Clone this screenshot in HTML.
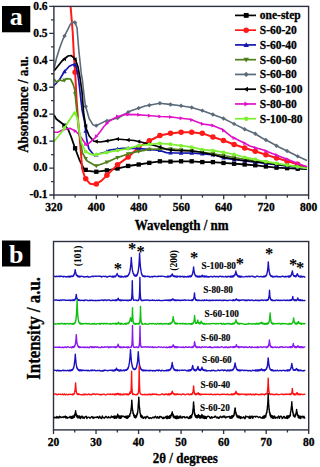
<!DOCTYPE html><html><head><meta charset="utf-8"><style>html,body{margin:0;padding:0;background:#fff;overflow:hidden}svg{display:block}</style></head><body>
<svg width="319" height="467" viewBox="0 0 319 467">
<defs><clipPath id="ca"><rect x="53.9" y="6.4" width="254.70000000000002" height="188.6"/></clipPath></defs>
<g clip-path="url(#ca)">
<path d="M54.00,115.00 L56.30,119.00 L62.50,123.70 L68.00,129.20 L71.20,137.00 L74.70,147.20 L79.40,159.80 L84.10,169.20 L88.00,170.80 L95.90,171.80 L106.80,170.40 L117.00,168.60 L127.80,166.00 L138.80,164.50 L149.00,162.90 L160.00,161.30 L170.50,161.60 L180.70,161.30 L191.60,161.30 L202.60,162.10 L212.80,162.10 L223.00,162.90 L233.90,163.70 L244.90,164.50 L255.90,165.30 L275.70,167.60 L307.00,169.20" fill="none" stroke="#000000" stroke-width="1.8" stroke-linejoin="round"/>
<rect x="62.34" y="123.54" width="4.32" height="4.32" fill="#000000"/>
<rect x="72.94" y="146.11" width="4.32" height="4.32" fill="#000000"/>
<rect x="83.54" y="167.70" width="4.32" height="4.32" fill="#000000"/>
<rect x="94.14" y="169.59" width="4.32" height="4.32" fill="#000000"/>
<rect x="104.74" y="168.22" width="4.32" height="4.32" fill="#000000"/>
<rect x="115.34" y="166.32" width="4.32" height="4.32" fill="#000000"/>
<rect x="125.94" y="163.80" width="4.32" height="4.32" fill="#000000"/>
<rect x="136.54" y="162.35" width="4.32" height="4.32" fill="#000000"/>
<rect x="147.14" y="160.70" width="4.32" height="4.32" fill="#000000"/>
<rect x="157.74" y="159.15" width="4.32" height="4.32" fill="#000000"/>
<rect x="168.34" y="159.44" width="4.32" height="4.32" fill="#000000"/>
<rect x="178.94" y="159.14" width="4.32" height="4.32" fill="#000000"/>
<rect x="189.54" y="159.15" width="4.32" height="4.32" fill="#000000"/>
<rect x="200.14" y="159.92" width="4.32" height="4.32" fill="#000000"/>
<rect x="210.74" y="159.95" width="4.32" height="4.32" fill="#000000"/>
<rect x="221.34" y="160.78" width="4.32" height="4.32" fill="#000000"/>
<rect x="231.94" y="161.55" width="4.32" height="4.32" fill="#000000"/>
<rect x="242.54" y="162.33" width="4.32" height="4.32" fill="#000000"/>
<rect x="253.14" y="163.10" width="4.32" height="4.32" fill="#000000"/>
<rect x="263.74" y="164.30" width="4.32" height="4.32" fill="#000000"/>
<rect x="274.34" y="165.48" width="4.32" height="4.32" fill="#000000"/>
<rect x="284.94" y="166.02" width="4.32" height="4.32" fill="#000000"/>
<rect x="295.54" y="166.56" width="4.32" height="4.32" fill="#000000"/>
<path d="M70.40,0.00 L70.60,6.40 L72.70,32.00 L73.80,53.50 L75.30,75.00 L76.60,100.00 L78.20,121.30 L81.00,153.50 L82.10,168.80 L85.20,178.20 L89.90,183.70 L95.40,184.50 L101.60,180.60 L107.10,175.10 L117.30,164.90 L127.80,157.40 L138.80,147.20 L149.00,141.00 L160.00,135.50 L169.70,133.40 L181.50,132.30 L191.60,132.30 L202.60,133.40 L212.80,137.00 L223.00,140.30 L234.30,144.50 L244.90,148.00 L255.90,151.50 L270.00,156.00 L290.00,162.00 L307.00,167.00" fill="none" stroke="#ff1a1a" stroke-width="2.0" stroke-linejoin="round"/>
<circle cx="75.10" cy="72.13" r="2.75" fill="#ff1a1a"/>
<circle cx="85.70" cy="178.79" r="2.75" fill="#ff1a1a"/>
<circle cx="96.30" cy="183.93" r="2.75" fill="#ff1a1a"/>
<circle cx="106.90" cy="175.30" r="2.75" fill="#ff1a1a"/>
<circle cx="117.50" cy="164.76" r="2.75" fill="#ff1a1a"/>
<circle cx="128.10" cy="157.12" r="2.75" fill="#ff1a1a"/>
<circle cx="138.70" cy="147.29" r="2.75" fill="#ff1a1a"/>
<circle cx="149.30" cy="140.85" r="2.75" fill="#ff1a1a"/>
<circle cx="159.90" cy="135.55" r="2.75" fill="#ff1a1a"/>
<circle cx="170.50" cy="133.33" r="2.75" fill="#ff1a1a"/>
<circle cx="181.10" cy="132.34" r="2.75" fill="#ff1a1a"/>
<circle cx="191.70" cy="132.31" r="2.75" fill="#ff1a1a"/>
<circle cx="202.30" cy="133.37" r="2.75" fill="#ff1a1a"/>
<circle cx="212.90" cy="137.03" r="2.75" fill="#ff1a1a"/>
<circle cx="223.50" cy="140.49" r="2.75" fill="#ff1a1a"/>
<circle cx="234.10" cy="144.43" r="2.75" fill="#ff1a1a"/>
<circle cx="244.70" cy="147.93" r="2.75" fill="#ff1a1a"/>
<circle cx="255.30" cy="151.31" r="2.75" fill="#ff1a1a"/>
<circle cx="265.90" cy="154.69" r="2.75" fill="#ff1a1a"/>
<circle cx="276.50" cy="157.95" r="2.75" fill="#ff1a1a"/>
<circle cx="287.10" cy="161.13" r="2.75" fill="#ff1a1a"/>
<circle cx="297.70" cy="164.26" r="2.75" fill="#ff1a1a"/>
<path d="M54.00,85.50 L56.00,83.50 L59.60,79.50 L64.10,72.00 L69.30,66.30 L72.00,65.00 L74.60,64.00 L76.00,66.50 L77.60,73.00 L79.00,83.00 L80.00,92.00 L82.10,110.00 L84.50,121.30 L86.80,140.00 L88.80,148.80 L94.30,155.50 L100.00,153.50 L106.00,152.00 L109.40,150.00 L122.60,148.40 L137.60,148.40 L160.00,150.50 L166.30,152.60 L175.00,153.00 L193.20,153.20 L215.00,155.00 L224.50,158.20 L245.00,161.00 L270.00,164.00 L307.00,168.50" fill="none" stroke="#1515b0" stroke-width="1.7" stroke-linejoin="round"/>
<path d="M64.50,69.28 L66.78,73.18 L62.22,73.18Z" fill="#1515b0"/>
<path d="M75.10,62.61 L77.38,66.51 L72.82,66.51Z" fill="#1515b0"/>
<path d="M85.70,128.78 L87.98,132.67 L83.42,132.67Z" fill="#1515b0"/>
<path d="M96.30,152.52 L98.58,156.41 L94.02,156.41Z" fill="#1515b0"/>
<path d="M106.90,149.19 L109.18,153.09 L104.62,153.09Z" fill="#1515b0"/>
<path d="M117.50,146.74 L119.78,150.63 L115.22,150.63Z" fill="#1515b0"/>
<path d="M128.10,146.12 L130.38,150.02 L125.82,150.02Z" fill="#1515b0"/>
<path d="M138.70,146.22 L140.98,150.12 L136.42,150.12Z" fill="#1515b0"/>
<path d="M149.30,147.22 L151.58,151.11 L147.02,151.11Z" fill="#1515b0"/>
<path d="M159.90,148.21 L162.18,152.11 L157.62,152.11Z" fill="#1515b0"/>
<path d="M170.50,150.51 L172.78,154.41 L168.22,154.41Z" fill="#1515b0"/>
<path d="M181.10,150.79 L183.38,154.68 L178.82,154.68Z" fill="#1515b0"/>
<path d="M191.70,150.90 L193.98,154.80 L189.42,154.80Z" fill="#1515b0"/>
<path d="M202.30,151.67 L204.58,155.57 L200.02,155.57Z" fill="#1515b0"/>
<path d="M212.90,152.55 L215.18,156.44 L210.62,156.44Z" fill="#1515b0"/>
<path d="M223.50,155.58 L225.78,159.48 L221.22,159.48Z" fill="#1515b0"/>
<path d="M234.10,157.23 L236.38,161.13 L231.82,161.13Z" fill="#1515b0"/>
<path d="M244.70,158.68 L246.98,162.57 L242.42,162.57Z" fill="#1515b0"/>
<path d="M255.30,159.96 L257.58,163.85 L253.02,163.85Z" fill="#1515b0"/>
<path d="M265.90,161.23 L268.18,165.12 L263.62,165.12Z" fill="#1515b0"/>
<path d="M276.50,162.51 L278.78,166.41 L274.22,166.41Z" fill="#1515b0"/>
<path d="M287.10,163.80 L289.38,167.69 L284.82,167.69Z" fill="#1515b0"/>
<path d="M297.70,165.09 L299.98,168.98 L295.42,168.98Z" fill="#1515b0"/>
<path d="M54.00,79.00 L56.50,82.00 L60.00,80.00 L63.00,81.00 L67.00,78.60 L70.50,79.00 L73.00,84.00 L74.70,89.60 L75.60,99.00 L78.50,128.00 L82.40,153.00 L87.20,161.00 L95.90,166.00 L107.60,162.00 L115.00,158.50 L130.00,153.20 L148.90,149.30 L160.00,149.00 L170.00,148.80 L190.00,150.50 L215.00,154.00 L240.00,158.50 L270.00,163.00 L307.00,168.00" fill="none" stroke="#4f7f1c" stroke-width="1.7" stroke-linejoin="round"/>
<path d="M64.50,82.38 L66.78,78.49 L62.22,78.49Z" fill="#4f7f1c"/>
<path d="M75.10,96.06 L77.38,92.16 L72.82,92.16Z" fill="#4f7f1c"/>
<path d="M85.70,160.78 L87.98,156.88 L83.42,156.88Z" fill="#4f7f1c"/>
<path d="M96.30,168.14 L98.58,164.25 L94.02,164.25Z" fill="#4f7f1c"/>
<path d="M106.90,164.52 L109.18,160.62 L104.62,160.62Z" fill="#4f7f1c"/>
<path d="M117.50,159.90 L119.78,156.00 L115.22,156.00Z" fill="#4f7f1c"/>
<path d="M128.10,156.15 L130.38,152.26 L125.82,152.26Z" fill="#4f7f1c"/>
<path d="M138.70,153.68 L140.98,149.79 L136.42,149.79Z" fill="#4f7f1c"/>
<path d="M149.30,151.57 L151.58,147.67 L147.02,147.67Z" fill="#4f7f1c"/>
<path d="M159.90,151.28 L162.18,147.39 L157.62,147.39Z" fill="#4f7f1c"/>
<path d="M170.50,151.12 L172.78,147.23 L168.22,147.23Z" fill="#4f7f1c"/>
<path d="M181.10,152.02 L183.38,148.13 L178.82,148.13Z" fill="#4f7f1c"/>
<path d="M191.70,153.02 L193.98,149.12 L189.42,149.12Z" fill="#4f7f1c"/>
<path d="M202.30,154.50 L204.58,150.61 L200.02,150.61Z" fill="#4f7f1c"/>
<path d="M212.90,155.99 L215.18,152.09 L210.62,152.09Z" fill="#4f7f1c"/>
<path d="M223.50,157.81 L225.78,153.91 L221.22,153.91Z" fill="#4f7f1c"/>
<path d="M234.10,159.72 L236.38,155.82 L231.82,155.82Z" fill="#4f7f1c"/>
<path d="M244.70,161.48 L246.98,157.59 L242.42,157.59Z" fill="#4f7f1c"/>
<path d="M255.30,163.07 L257.58,159.18 L253.02,159.18Z" fill="#4f7f1c"/>
<path d="M265.90,164.66 L268.18,160.77 L263.62,160.77Z" fill="#4f7f1c"/>
<path d="M276.50,166.16 L278.78,162.26 L274.22,162.26Z" fill="#4f7f1c"/>
<path d="M287.10,167.59 L289.38,163.70 L284.82,163.70Z" fill="#4f7f1c"/>
<path d="M297.70,169.02 L299.98,165.13 L295.42,165.13Z" fill="#4f7f1c"/>
<path d="M54.00,69.00 L56.40,58.60 L59.60,48.30 L62.90,39.30 L66.70,31.60 L70.60,23.90 L74.60,21.40 L77.00,27.80 L78.80,50.00 L81.30,74.00 L82.40,80.00 L84.00,95.00 L85.30,105.00 L89.10,118.50 L93.00,124.80 L96.00,125.80 L104.40,121.60 L118.50,117.70 L131.00,110.70 L145.00,106.00 L159.80,103.30 L169.70,104.40 L180.70,105.70 L191.60,107.50 L202.60,110.70 L212.80,114.50 L223.00,118.30 L235.50,124.60 L244.90,129.30 L254.30,133.20 L262.00,138.00 L269.40,141.80 L278.80,147.00 L288.20,151.50 L297.60,156.30 L307.00,160.60" fill="none" stroke="#5c6b7a" stroke-width="1.6" stroke-linejoin="round"/>
<path d="M64.50,33.85 L66.71,36.06 L64.50,38.27 L62.29,36.06Z" fill="#5c6b7a"/>
<path d="M75.10,20.52 L77.31,22.73 L75.10,24.94 L72.89,22.73Z" fill="#5c6b7a"/>
<path d="M85.70,104.21 L87.91,106.42 L85.70,108.63 L83.49,106.42Z" fill="#5c6b7a"/>
<path d="M96.30,123.44 L98.51,125.65 L96.30,127.86 L94.09,125.65Z" fill="#5c6b7a"/>
<path d="M106.90,118.70 L109.11,120.91 L106.90,123.12 L104.69,120.91Z" fill="#5c6b7a"/>
<path d="M117.50,115.77 L119.71,117.98 L117.50,120.19 L115.29,117.98Z" fill="#5c6b7a"/>
<path d="M128.10,110.11 L130.31,112.32 L128.10,114.53 L125.89,112.32Z" fill="#5c6b7a"/>
<path d="M138.70,105.91 L140.91,108.12 L138.70,110.33 L136.49,108.12Z" fill="#5c6b7a"/>
<path d="M149.30,103.01 L151.51,105.22 L149.30,107.43 L147.09,105.22Z" fill="#5c6b7a"/>
<path d="M159.90,101.10 L162.11,103.31 L159.90,105.52 L157.69,103.31Z" fill="#5c6b7a"/>
<path d="M170.50,102.28 L172.71,104.49 L170.50,106.70 L168.29,104.49Z" fill="#5c6b7a"/>
<path d="M181.10,103.56 L183.31,105.77 L181.10,107.98 L178.89,105.77Z" fill="#5c6b7a"/>
<path d="M191.70,105.32 L193.91,107.53 L191.70,109.74 L189.49,107.53Z" fill="#5c6b7a"/>
<path d="M202.30,108.40 L204.51,110.61 L202.30,112.82 L200.09,110.61Z" fill="#5c6b7a"/>
<path d="M212.90,112.33 L215.11,114.54 L212.90,116.75 L210.69,114.54Z" fill="#5c6b7a"/>
<path d="M223.50,116.34 L225.71,118.55 L223.50,120.76 L221.29,118.55Z" fill="#5c6b7a"/>
<path d="M234.10,121.68 L236.31,123.89 L234.10,126.10 L231.89,123.89Z" fill="#5c6b7a"/>
<path d="M244.70,126.99 L246.91,129.20 L244.70,131.41 L242.49,129.20Z" fill="#5c6b7a"/>
<path d="M255.30,131.61 L257.51,133.82 L255.30,136.03 L253.09,133.82Z" fill="#5c6b7a"/>
<path d="M265.90,137.79 L268.11,140.00 L265.90,142.21 L263.69,140.00Z" fill="#5c6b7a"/>
<path d="M276.50,143.52 L278.71,145.73 L276.50,147.94 L274.29,145.73Z" fill="#5c6b7a"/>
<path d="M287.10,148.76 L289.31,150.97 L287.10,153.18 L284.89,150.97Z" fill="#5c6b7a"/>
<path d="M297.70,154.14 L299.91,156.35 L297.70,158.56 L295.49,156.35Z" fill="#5c6b7a"/>
<path d="M54.00,71.00 L58.00,66.00 L62.00,61.00 L68.00,56.00 L71.00,55.50 L73.60,57.50 L75.60,60.00 L78.00,67.00 L80.00,78.00 L82.00,92.00 L83.70,113.50 L86.00,128.00 L89.20,136.00 L93.90,141.20 L100.00,142.00 L107.60,140.80 L117.00,139.00 L134.20,140.50 L145.00,143.00 L160.00,147.00 L166.30,149.30 L175.00,150.50 L191.30,151.00 L200.00,152.00 L212.00,154.50 L224.50,157.50 L240.00,160.00 L262.00,162.50 L285.00,165.50 L307.00,168.00" fill="none" stroke="#000000" stroke-width="1.7" stroke-linejoin="round"/>
<path d="M62.34,58.92 L66.03,56.76 L66.03,61.08Z" fill="#000000"/>
<path d="M72.94,59.37 L76.63,57.21 L76.63,61.53Z" fill="#000000"/>
<path d="M83.54,126.11 L87.23,123.95 L87.23,128.27Z" fill="#000000"/>
<path d="M94.14,141.51 L97.83,139.35 L97.83,143.67Z" fill="#000000"/>
<path d="M104.74,140.91 L108.43,138.75 L108.43,143.07Z" fill="#000000"/>
<path d="M115.34,139.04 L119.03,136.88 L119.03,141.20Z" fill="#000000"/>
<path d="M125.94,139.97 L129.63,137.81 L129.63,142.13Z" fill="#000000"/>
<path d="M136.54,141.54 L140.23,139.38 L140.23,143.70Z" fill="#000000"/>
<path d="M147.14,144.15 L150.83,141.99 L150.83,146.31Z" fill="#000000"/>
<path d="M157.74,146.97 L161.43,144.81 L161.43,149.13Z" fill="#000000"/>
<path d="M168.34,149.88 L172.03,147.72 L172.03,152.04Z" fill="#000000"/>
<path d="M178.94,150.69 L182.63,148.53 L182.63,152.85Z" fill="#000000"/>
<path d="M189.54,151.05 L193.23,148.89 L193.23,153.21Z" fill="#000000"/>
<path d="M200.14,152.48 L203.83,150.32 L203.83,154.64Z" fill="#000000"/>
<path d="M210.74,154.72 L214.43,152.56 L214.43,156.88Z" fill="#000000"/>
<path d="M221.34,157.26 L225.03,155.10 L225.03,159.42Z" fill="#000000"/>
<path d="M231.94,159.05 L235.63,156.89 L235.63,161.21Z" fill="#000000"/>
<path d="M242.54,160.53 L246.23,158.37 L246.23,162.69Z" fill="#000000"/>
<path d="M253.14,161.74 L256.83,159.58 L256.83,163.90Z" fill="#000000"/>
<path d="M263.74,163.01 L267.43,160.85 L267.43,165.17Z" fill="#000000"/>
<path d="M274.34,164.39 L278.03,162.23 L278.03,166.55Z" fill="#000000"/>
<path d="M284.94,165.74 L288.63,163.58 L288.63,167.90Z" fill="#000000"/>
<path d="M295.54,166.94 L299.23,164.78 L299.23,169.10Z" fill="#000000"/>
<path d="M54.00,132.30 L57.80,132.30 L64.10,129.20 L70.40,128.40 L75.90,131.50 L79.80,135.50 L82.90,140.00 L86.50,145.30 L95.30,137.60 L100.00,132.00 L104.10,126.30 L109.10,121.30 L116.60,116.90 L124.00,114.40 L135.80,114.60 L145.00,115.30 L160.00,116.50 L171.30,117.00 L180.70,118.20 L190.00,119.30 L202.60,124.00 L212.60,125.40 L222.00,129.20 L231.40,136.70 L242.70,142.30 L250.00,146.00 L254.30,147.50 L262.00,149.50 L280.00,156.50 L307.00,167.00" fill="none" stroke="#e010c8" stroke-width="1.6" stroke-linejoin="round"/>
<path d="M66.54,129.15 L63.05,127.11 L63.05,131.19Z" fill="#e010c8"/>
<path d="M77.14,131.05 L73.66,129.01 L73.66,133.09Z" fill="#e010c8"/>
<path d="M87.74,144.12 L84.25,142.08 L84.25,146.16Z" fill="#e010c8"/>
<path d="M98.34,136.41 L94.85,134.37 L94.85,138.45Z" fill="#e010c8"/>
<path d="M108.94,123.50 L105.45,121.46 L105.45,125.54Z" fill="#e010c8"/>
<path d="M119.54,116.60 L116.05,114.56 L116.05,118.64Z" fill="#e010c8"/>
<path d="M130.14,114.47 L126.65,112.43 L126.65,116.51Z" fill="#e010c8"/>
<path d="M140.74,114.82 L137.25,112.78 L137.25,116.86Z" fill="#e010c8"/>
<path d="M151.34,115.64 L147.85,113.60 L147.85,117.68Z" fill="#e010c8"/>
<path d="M161.94,116.49 L158.45,114.45 L158.45,118.53Z" fill="#e010c8"/>
<path d="M172.54,116.96 L169.05,114.92 L169.05,119.00Z" fill="#e010c8"/>
<path d="M183.14,118.25 L179.65,116.21 L179.65,120.29Z" fill="#e010c8"/>
<path d="M193.74,119.93 L190.25,117.89 L190.25,121.97Z" fill="#e010c8"/>
<path d="M204.34,123.89 L200.85,121.85 L200.85,125.93Z" fill="#e010c8"/>
<path d="M214.94,125.52 L211.45,123.48 L211.45,127.56Z" fill="#e010c8"/>
<path d="M225.54,130.40 L222.05,128.36 L222.05,132.44Z" fill="#e010c8"/>
<path d="M236.14,138.04 L232.65,136.00 L232.65,140.08Z" fill="#e010c8"/>
<path d="M246.74,143.31 L243.25,141.27 L243.25,145.35Z" fill="#e010c8"/>
<path d="M257.34,147.76 L253.85,145.72 L253.85,149.80Z" fill="#e010c8"/>
<path d="M267.94,151.02 L264.45,148.98 L264.45,153.06Z" fill="#e010c8"/>
<path d="M278.54,155.14 L275.05,153.10 L275.05,157.18Z" fill="#e010c8"/>
<path d="M289.14,159.26 L285.65,157.22 L285.65,161.30Z" fill="#e010c8"/>
<path d="M299.74,163.38 L296.25,161.34 L296.25,165.42Z" fill="#e010c8"/>
<path d="M54.00,141.50 L62.50,131.00 L74.50,112.20 L77.60,118.50 L79.20,131.00 L81.60,143.00 L85.30,151.30 L90.00,154.00 L94.30,155.00 L106.00,152.70 L117.00,150.40 L127.00,148.80 L138.80,145.70 L159.20,143.30 L169.70,144.10 L180.70,145.70 L191.60,147.20 L202.60,149.60 L212.00,150.50 L223.00,152.20 L234.70,154.60 L244.90,157.50 L255.90,159.50 L262.00,161.00 L307.00,168.30" fill="none" stroke="#7ef032" stroke-width="1.8" stroke-linejoin="round"/>
<circle cx="64.50" cy="127.87" r="1.90" fill="#7ef032"/>
<circle cx="75.10" cy="113.42" r="1.90" fill="#7ef032"/>
<circle cx="85.70" cy="151.53" r="1.90" fill="#7ef032"/>
<circle cx="96.30" cy="154.61" r="1.90" fill="#7ef032"/>
<circle cx="106.90" cy="152.51" r="1.90" fill="#7ef032"/>
<circle cx="117.50" cy="150.32" r="1.90" fill="#7ef032"/>
<circle cx="128.10" cy="148.51" r="1.90" fill="#7ef032"/>
<circle cx="138.70" cy="145.73" r="1.90" fill="#7ef032"/>
<circle cx="149.30" cy="144.46" r="1.90" fill="#7ef032"/>
<circle cx="159.90" cy="143.35" r="1.90" fill="#7ef032"/>
<circle cx="170.50" cy="144.22" r="1.90" fill="#7ef032"/>
<circle cx="181.10" cy="145.76" r="1.90" fill="#7ef032"/>
<circle cx="191.70" cy="147.22" r="1.90" fill="#7ef032"/>
<circle cx="202.30" cy="149.53" r="1.90" fill="#7ef032"/>
<circle cx="212.90" cy="150.64" r="1.90" fill="#7ef032"/>
<circle cx="223.50" cy="152.30" r="1.90" fill="#7ef032"/>
<circle cx="234.10" cy="154.48" r="1.90" fill="#7ef032"/>
<circle cx="244.70" cy="157.44" r="1.90" fill="#7ef032"/>
<circle cx="255.30" cy="159.39" r="1.90" fill="#7ef032"/>
<circle cx="265.90" cy="161.63" r="1.90" fill="#7ef032"/>
<circle cx="276.50" cy="163.35" r="1.90" fill="#7ef032"/>
<circle cx="287.10" cy="165.07" r="1.90" fill="#7ef032"/>
<circle cx="297.70" cy="166.79" r="1.90" fill="#7ef032"/>
</g>
<rect x="53.9" y="6.4" width="254.70000000000002" height="188.6" fill="none" stroke="#2c3040" stroke-width="1.4"/>
<path d="M49.3,6.40H53.9M51.1,19.87H53.9M49.3,33.34H53.9M51.1,46.81H53.9M49.3,60.29H53.9M51.1,73.76H53.9M49.3,87.23H53.9M51.1,100.70H53.9M49.3,114.17H53.9M51.1,127.64H53.9M49.3,141.11H53.9M51.1,154.59H53.9M49.3,168.06H53.9M51.1,181.53H53.9M49.3,195.00H53.9M53.90,195.0V199.2M75.12,195.0V197.6M96.35,195.0V199.2M117.57,195.0V197.6M138.80,195.0V199.2M160.03,195.0V197.6M181.25,195.0V199.2M202.47,195.0V197.6M223.70,195.0V199.2M244.93,195.0V197.6M266.15,195.0V199.2M287.38,195.0V197.6M308.60,195.0V199.2" stroke="#2c3040" stroke-width="1.3" fill="none"/>
<text x="47.6" y="9.70" font-family="Liberation Serif" font-weight="bold" stroke="currentColor" stroke-width="0.3" font-size="11.5" text-anchor="end">0.6</text>
<text x="47.6" y="36.64" font-family="Liberation Serif" font-weight="bold" stroke="currentColor" stroke-width="0.3" font-size="11.5" text-anchor="end">0.5</text>
<text x="47.6" y="63.59" font-family="Liberation Serif" font-weight="bold" stroke="currentColor" stroke-width="0.3" font-size="11.5" text-anchor="end">0.4</text>
<text x="47.6" y="90.53" font-family="Liberation Serif" font-weight="bold" stroke="currentColor" stroke-width="0.3" font-size="11.5" text-anchor="end">0.3</text>
<text x="47.6" y="117.47" font-family="Liberation Serif" font-weight="bold" stroke="currentColor" stroke-width="0.3" font-size="11.5" text-anchor="end">0.2</text>
<text x="47.6" y="144.41" font-family="Liberation Serif" font-weight="bold" stroke="currentColor" stroke-width="0.3" font-size="11.5" text-anchor="end">0.1</text>
<text x="47.6" y="171.36" font-family="Liberation Serif" font-weight="bold" stroke="currentColor" stroke-width="0.3" font-size="11.5" text-anchor="end">0.0</text>
<text x="47.6" y="198.30" font-family="Liberation Serif" font-weight="bold" stroke="currentColor" stroke-width="0.3" font-size="11.5" text-anchor="end">-0.1</text>
<text x="53.90" y="210.8" font-family="Liberation Serif" font-weight="bold" stroke="currentColor" stroke-width="0.3" font-size="11.5" text-anchor="middle">320</text>
<text x="96.35" y="210.8" font-family="Liberation Serif" font-weight="bold" stroke="currentColor" stroke-width="0.3" font-size="11.5" text-anchor="middle">400</text>
<text x="138.80" y="210.8" font-family="Liberation Serif" font-weight="bold" stroke="currentColor" stroke-width="0.3" font-size="11.5" text-anchor="middle">480</text>
<text x="181.25" y="210.8" font-family="Liberation Serif" font-weight="bold" stroke="currentColor" stroke-width="0.3" font-size="11.5" text-anchor="middle">560</text>
<text x="223.70" y="210.8" font-family="Liberation Serif" font-weight="bold" stroke="currentColor" stroke-width="0.3" font-size="11.5" text-anchor="middle">640</text>
<text x="266.15" y="210.8" font-family="Liberation Serif" font-weight="bold" stroke="currentColor" stroke-width="0.3" font-size="11.5" text-anchor="middle">720</text>
<text x="308.60" y="210.8" font-family="Liberation Serif" font-weight="bold" stroke="currentColor" stroke-width="0.3" font-size="11.5" text-anchor="middle">800</text>
<text transform="translate(181.7,230.4) scale(1,1.12)" font-family="Liberation Serif" font-weight="bold" stroke="currentColor" stroke-width="0.3" font-size="13" text-anchor="middle">Wavelength / nm</text>
<text transform="translate(28.4,104.5) rotate(-90) scale(1,1.1)" font-family="Liberation Serif" font-weight="bold" stroke="currentColor" stroke-width="0.3" font-size="13" text-anchor="middle">Absorbance / a.u.</text>
<rect x="2" y="6" width="28.3" height="26.3" fill="#000"/>
<text x="16.2" y="25.3" font-family="Liberation Serif" font-weight="bold" font-size="26" fill="#fff" text-anchor="middle">a</text>
<path d="M235,15.40H256" stroke="#000000" stroke-width="1.7"/>
<rect x="243.77" y="12.97" width="4.86" height="4.86" fill="#000000"/>
<text x="259.8" y="19.30" font-family="Liberation Serif" font-weight="bold" stroke="currentColor" stroke-width="0.3" font-size="11.5">one-step</text>
<path d="M235,30.16H256" stroke="#ff1a1a" stroke-width="1.7"/>
<circle cx="246.20" cy="30.16" r="2.75" fill="#ff1a1a"/>
<text x="259.8" y="34.06" font-family="Liberation Serif" font-weight="bold" stroke="currentColor" stroke-width="0.3" font-size="11.5">S-60-20</text>
<path d="M235,44.92H256" stroke="#1515b0" stroke-width="1.7"/>
<path d="M246.20,42.16 L248.96,46.88 L243.44,46.88Z" fill="#1515b0"/>
<text x="259.8" y="48.82" font-family="Liberation Serif" font-weight="bold" stroke="currentColor" stroke-width="0.3" font-size="11.5">S-60-40</text>
<path d="M235,59.68H256" stroke="#4f7f1c" stroke-width="1.7"/>
<path d="M246.20,62.44 L248.96,57.73 L243.44,57.73Z" fill="#4f7f1c"/>
<text x="259.8" y="63.58" font-family="Liberation Serif" font-weight="bold" stroke="currentColor" stroke-width="0.3" font-size="11.5">S-60-60</text>
<path d="M235,74.44H256" stroke="#5c6b7a" stroke-width="1.7"/>
<path d="M246.20,71.84 L248.80,74.44 L246.20,77.04 L243.60,74.44Z" fill="#5c6b7a"/>
<text x="259.8" y="78.34" font-family="Liberation Serif" font-weight="bold" stroke="currentColor" stroke-width="0.3" font-size="11.5">S-60-80</text>
<path d="M235,89.20H256" stroke="#000000" stroke-width="1.7"/>
<path d="M243.68,89.20 L247.98,86.68 L247.98,91.72Z" fill="#000000"/>
<text x="259.8" y="93.10" font-family="Liberation Serif" font-weight="bold" stroke="currentColor" stroke-width="0.3" font-size="11.5">S-60-100</text>
<path d="M235,103.96H256" stroke="#e010c8" stroke-width="1.7"/>
<path d="M248.72,103.96 L244.41,101.44 L244.41,106.48Z" fill="#e010c8"/>
<text x="259.8" y="107.86" font-family="Liberation Serif" font-weight="bold" stroke="currentColor" stroke-width="0.3" font-size="11.5">S-80-80</text>
<path d="M235,118.72H256" stroke="#7ef032" stroke-width="1.7"/>
<circle cx="246.20" cy="118.72" r="2.18" fill="#7ef032"/>
<text x="259.8" y="122.62" font-family="Liberation Serif" font-weight="bold" stroke="currentColor" stroke-width="0.3" font-size="11.5">S-100-80</text>
<rect x="53.5" y="241.5" width="255.2" height="188.39999999999998" fill="none" stroke="#2c3040" stroke-width="1.4"/>
<path d="M53.50,429.9V434.09999999999997M74.77,429.9V432.5M96.03,429.9V434.09999999999997M117.30,429.9V432.5M138.57,429.9V434.09999999999997M159.83,429.9V432.5M181.10,429.9V434.09999999999997M202.37,429.9V432.5M223.63,429.9V434.09999999999997M244.90,429.9V432.5M266.17,429.9V434.09999999999997M287.43,429.9V432.5M308.70,429.9V434.09999999999997" stroke="#2c3040" stroke-width="1.3" fill="none"/>
<text x="53.50" y="445.5" font-family="Liberation Serif" font-weight="bold" stroke="currentColor" stroke-width="0.3" font-size="11.5" text-anchor="middle">20</text>
<text x="96.03" y="445.5" font-family="Liberation Serif" font-weight="bold" stroke="currentColor" stroke-width="0.3" font-size="11.5" text-anchor="middle">30</text>
<text x="138.57" y="445.5" font-family="Liberation Serif" font-weight="bold" stroke="currentColor" stroke-width="0.3" font-size="11.5" text-anchor="middle">40</text>
<text x="181.10" y="445.5" font-family="Liberation Serif" font-weight="bold" stroke="currentColor" stroke-width="0.3" font-size="11.5" text-anchor="middle">50</text>
<text x="223.63" y="445.5" font-family="Liberation Serif" font-weight="bold" stroke="currentColor" stroke-width="0.3" font-size="11.5" text-anchor="middle">60</text>
<text x="266.17" y="445.5" font-family="Liberation Serif" font-weight="bold" stroke="currentColor" stroke-width="0.3" font-size="11.5" text-anchor="middle">70</text>
<text x="308.70" y="445.5" font-family="Liberation Serif" font-weight="bold" stroke="currentColor" stroke-width="0.3" font-size="11.5" text-anchor="middle">80</text>
<text transform="translate(185.3,462.6) scale(1,1.1)" font-family="Liberation Serif" font-weight="bold" stroke="currentColor" stroke-width="0.3" font-size="13" text-anchor="middle">2θ / degrees</text>
<text transform="translate(40.2,328.4) rotate(-90) scale(1,1.12)" font-family="Liberation Serif" font-weight="bold" stroke="currentColor" stroke-width="0.3" font-size="16.8" text-anchor="middle">Intensity / a.u.</text>
<rect x="2" y="240.5" width="28.3" height="26" fill="#000"/>
<text x="16.2" y="263" font-family="Liberation Serif" font-weight="bold" font-size="26" fill="#fff" text-anchor="middle">b</text>
<path d="M54.00,276.42 L54.70,276.25 L55.40,276.75 L56.10,276.17 L56.80,276.64 L57.50,276.47 L58.20,276.16 L58.90,276.61 L59.60,276.14 L60.30,276.53 L61.00,276.17 L61.70,276.19 L62.40,276.52 L63.10,276.93 L63.80,276.22 L64.50,276.32 L65.20,276.73 L65.90,277.05 L66.60,276.68 L67.30,276.50 L68.00,277.07 L68.70,276.14 L69.40,276.95 L69.80,276.37 L69.95,276.22 L70.10,276.19 L70.25,276.38 L70.40,276.88 L70.55,276.24 L70.70,276.63 L70.80,276.69 L70.85,276.42 L71.00,276.58 L71.15,276.09 L71.30,276.07 L71.45,276.20 L71.50,276.67 L71.60,276.40 L71.75,276.26 L71.90,276.51 L72.05,276.34 L72.20,276.15 L72.35,276.60 L72.50,276.45 L72.65,275.93 L72.80,276.19 L72.90,276.08 L72.95,276.40 L73.10,276.15 L73.25,275.59 L73.40,276.13 L73.55,275.10 L73.60,275.34 L73.70,275.54 L73.85,274.69 L74.00,274.74 L74.15,273.96 L74.30,274.19 L74.45,273.82 L74.60,273.08 L74.75,272.73 L74.90,271.40 L75.00,271.19 L75.05,270.77 L75.20,269.68 L75.35,270.63 L75.50,271.92 L75.65,272.80 L75.70,272.56 L75.80,273.17 L75.95,273.12 L76.10,274.23 L76.25,274.57 L76.40,275.25 L76.55,275.36 L76.70,275.06 L76.85,275.37 L77.00,275.82 L77.10,275.27 L77.15,275.76 L77.30,275.59 L77.45,275.64 L77.60,275.67 L77.75,276.46 L77.80,275.84 L77.90,276.00 L78.05,276.20 L78.20,276.72 L78.35,275.97 L78.50,276.37 L78.65,276.50 L78.80,276.86 L78.95,276.81 L79.10,276.87 L79.20,276.30 L79.25,276.44 L79.40,276.39 L79.55,276.93 L79.70,277.01 L79.85,276.21 L79.90,276.24 L80.00,276.30 L80.15,276.30 L80.30,276.56 L80.45,276.67 L80.60,276.35 L81.30,276.10 L82.00,276.52 L82.70,276.47 L83.40,276.67 L84.10,277.05 L84.80,276.79 L85.50,276.62 L86.20,276.72 L86.90,276.78 L87.60,276.15 L88.30,277.00 L89.00,276.88 L89.70,276.97 L90.40,276.90 L91.10,276.49 L91.80,276.50 L92.50,276.20 L93.20,276.73 L93.90,276.16 L94.60,276.17 L95.30,276.31 L96.00,276.26 L96.70,276.44 L97.40,276.15 L98.10,276.10 L98.80,276.25 L99.50,276.20 L100.20,276.46 L100.90,276.13 L101.60,276.97 L102.30,276.71 L103.00,276.25 L103.70,276.35 L104.40,276.45 L105.10,276.46 L105.80,276.22 L106.50,276.95 L107.20,277.09 L107.90,276.57 L108.60,276.58 L109.30,276.19 L110.00,276.20 L110.70,276.44 L111.40,276.36 L112.10,276.92 L112.70,276.25 L112.80,276.11 L112.85,277.04 L113.00,276.62 L113.15,276.23 L113.30,276.62 L113.45,276.10 L113.50,276.60 L113.60,277.05 L113.75,276.93 L113.90,276.75 L114.05,276.31 L114.20,276.40 L114.35,276.19 L114.50,276.78 L114.65,276.52 L114.80,276.74 L114.90,276.27 L114.95,276.15 L115.10,276.70 L115.25,276.82 L115.40,276.64 L115.55,276.52 L115.60,276.50 L115.70,276.37 L115.85,275.75 L116.00,275.91 L116.15,275.59 L116.30,275.07 L116.45,274.84 L116.60,274.81 L116.75,274.44 L116.90,274.45 L117.00,274.38 L117.05,273.68 L117.20,273.54 L117.35,274.22 L117.50,274.71 L117.65,274.54 L117.70,274.52 L117.80,274.75 L117.95,275.01 L118.10,275.25 L118.25,275.86 L118.40,276.29 L118.55,276.36 L118.70,276.11 L118.85,276.36 L119.00,276.58 L119.10,275.91 L119.15,276.50 L119.30,276.80 L119.45,276.71 L119.60,276.71 L119.75,276.46 L119.80,276.17 L119.90,276.79 L120.05,276.35 L120.20,276.84 L120.35,277.02 L120.50,276.45 L120.65,276.46 L120.80,277.02 L120.95,276.80 L121.10,276.25 L121.20,276.21 L121.25,276.23 L121.40,276.99 L121.55,276.89 L121.90,276.24 L122.60,276.92 L123.30,277.06 L124.00,276.73 L124.55,276.40 L124.70,276.59 L124.85,276.17 L125.00,276.04 L125.15,276.99 L125.30,276.66 L125.40,276.53 L125.45,276.93 L125.60,276.41 L125.75,276.83 L125.90,276.77 L126.05,276.13 L126.10,276.17 L126.20,276.19 L126.35,276.11 L126.50,276.42 L126.65,276.05 L126.80,276.17 L126.95,275.83 L127.10,276.56 L127.25,275.93 L127.40,275.96 L127.50,276.03 L127.55,276.33 L127.70,275.75 L127.85,276.13 L128.00,275.59 L128.15,275.48 L128.20,275.42 L128.30,274.80 L128.45,275.03 L128.60,274.56 L128.75,274.13 L128.90,274.65 L129.05,273.70 L129.20,273.63 L129.35,273.47 L129.50,272.82 L129.60,272.23 L129.65,272.23 L129.80,271.65 L129.95,271.16 L130.10,269.67 L130.25,269.19 L130.30,268.54 L130.40,267.84 L130.55,267.12 L130.70,265.46 L130.85,263.92 L131.00,262.30 L131.15,260.38 L131.30,257.54 L131.45,260.08 L131.60,262.05 L131.70,263.29 L131.75,264.05 L131.90,265.40 L132.05,266.87 L132.20,268.03 L132.35,269.56 L132.40,269.64 L132.50,270.42 L132.65,271.30 L132.80,271.33 L132.95,272.25 L133.10,273.18 L133.25,273.55 L133.40,273.26 L133.55,273.60 L133.70,274.24 L133.75,273.96 L133.80,274.22 L133.85,274.14 L133.90,274.82 L134.00,275.09 L134.05,275.27 L134.15,274.66 L134.20,275.28 L134.30,275.34 L134.35,274.87 L134.45,275.71 L134.50,275.84 L134.60,275.17 L134.65,275.94 L134.75,275.45 L134.80,275.57 L134.90,276.13 L134.95,276.00 L135.05,275.37 L135.10,275.66 L135.20,275.77 L135.25,275.61 L135.35,275.48 L135.40,275.61 L135.50,276.02 L135.55,275.32 L135.65,275.86 L135.70,275.74 L135.80,275.30 L135.85,275.61 L135.90,275.89 L135.95,275.76 L136.00,275.30 L136.10,276.18 L136.15,275.97 L136.25,276.10 L136.30,275.20 L136.40,275.30 L136.45,275.04 L136.55,275.69 L136.60,275.14 L136.70,274.90 L136.75,275.14 L136.85,275.50 L136.90,275.35 L137.00,274.64 L137.05,274.45 L137.15,275.05 L137.20,274.61 L137.30,274.53 L137.35,273.81 L137.45,273.54 L137.50,274.04 L137.60,273.50 L137.65,272.99 L137.75,273.53 L137.80,273.05 L137.90,272.83 L137.95,271.90 L138.00,272.45 L138.10,271.18 L138.25,271.16 L138.40,269.80 L138.55,268.57 L138.70,267.49 L138.85,266.35 L139.00,263.92 L139.15,261.71 L139.30,259.70 L139.40,257.59 L139.45,256.48 L139.60,253.25 L139.75,256.42 L139.90,259.38 L140.05,261.91 L140.10,262.62 L140.20,264.42 L140.35,265.73 L140.50,267.46 L140.65,268.44 L140.80,269.73 L140.95,270.35 L141.10,271.41 L141.25,271.88 L141.40,273.20 L141.50,273.37 L141.55,273.17 L141.70,273.90 L141.85,274.74 L142.00,274.24 L142.15,275.24 L142.20,274.93 L142.30,275.15 L142.45,275.70 L142.60,275.43 L142.75,275.70 L142.90,276.01 L143.05,276.41 L143.20,275.87 L143.35,276.44 L143.50,276.39 L143.60,276.36 L143.65,276.14 L143.80,276.14 L143.95,275.89 L144.10,276.00 L144.25,275.98 L144.30,276.66 L144.40,276.19 L144.55,276.12 L144.70,276.06 L144.85,276.84 L145.00,276.88 L145.15,276.69 L145.30,276.32 L145.70,276.30 L146.40,276.37 L147.10,276.55 L147.80,276.25 L148.50,276.54 L149.20,276.36 L149.90,277.06 L150.60,277.07 L151.30,276.65 L152.00,276.34 L152.70,277.07 L153.40,276.41 L154.10,276.46 L154.80,276.10 L155.50,276.48 L156.20,276.57 L156.90,276.60 L157.60,276.30 L158.30,276.60 L159.00,276.10 L159.70,276.36 L160.40,276.19 L161.10,276.50 L161.80,276.14 L162.50,276.12 L163.20,276.40 L163.90,276.33 L164.60,276.69 L165.30,276.63 L166.00,276.85 L166.70,276.75 L166.80,276.81 L166.95,276.97 L167.10,276.48 L167.25,276.42 L167.40,277.07 L167.55,276.24 L167.70,276.81 L167.85,276.72 L168.00,276.12 L168.10,276.91 L168.15,276.96 L168.30,276.69 L168.45,276.80 L168.60,276.87 L168.75,276.19 L168.80,276.57 L168.90,276.54 L169.05,276.86 L169.20,276.82 L169.35,276.82 L169.50,276.56 L169.65,276.85 L169.80,276.61 L169.95,276.59 L170.10,276.09 L170.20,275.86 L170.25,275.95 L170.40,276.12 L170.55,275.81 L170.70,276.46 L170.85,276.10 L170.90,276.14 L171.00,276.07 L171.15,276.00 L171.30,275.67 L171.45,275.02 L171.60,275.61 L171.75,275.33 L171.90,274.81 L172.05,274.52 L172.20,274.26 L172.30,273.93 L172.35,274.72 L172.50,274.56 L172.65,274.66 L172.80,275.08 L172.95,275.74 L173.00,275.28 L173.10,275.92 L173.25,276.30 L173.40,275.93 L173.55,275.92 L173.70,276.11 L173.85,276.38 L174.00,276.53 L174.15,276.43 L174.30,276.50 L174.40,275.96 L174.45,276.04 L174.60,276.18 L174.75,276.70 L174.90,276.28 L175.05,276.56 L175.10,276.01 L175.20,276.07 L175.35,276.29 L175.50,276.71 L175.65,276.74 L175.80,276.73 L175.95,276.35 L176.10,276.58 L176.25,276.54 L176.40,276.54 L176.50,276.20 L176.55,276.97 L176.70,276.28 L176.85,277.06 L177.00,277.02 L177.15,276.11 L177.20,276.55 L177.30,276.91 L177.45,277.06 L177.90,276.55 L178.60,276.37 L179.30,276.31 L180.00,277.05 L180.70,276.31 L181.40,276.68 L182.10,276.24 L182.80,276.62 L183.50,277.05 L184.20,276.23 L184.90,276.92 L185.60,276.61 L186.30,276.99 L187.00,276.80 L187.70,276.32 L188.40,276.98 L188.65,276.56 L188.80,276.10 L188.95,276.07 L189.10,276.55 L189.25,276.50 L189.40,276.34 L189.55,276.17 L189.70,276.36 L189.80,276.32 L189.85,276.83 L190.00,275.97 L190.15,276.70 L190.30,276.76 L190.45,276.00 L190.50,276.79 L190.60,276.55 L190.75,276.69 L190.90,276.01 L191.05,276.02 L191.20,275.95 L191.35,276.44 L191.50,275.90 L191.65,275.52 L191.80,275.40 L191.90,275.10 L191.95,274.79 L192.10,274.58 L192.25,274.99 L192.40,274.05 L192.55,274.23 L192.60,273.37 L192.70,273.01 L192.85,272.58 L193.00,271.46 L193.15,270.68 L193.30,270.10 L193.45,268.65 L193.60,266.91 L193.75,268.39 L193.90,270.06 L194.00,270.88 L194.05,270.85 L194.20,271.99 L194.35,272.12 L194.50,273.47 L194.65,273.75 L194.70,274.22 L194.80,274.41 L194.95,274.44 L195.10,274.53 L195.25,275.67 L195.40,275.10 L195.55,275.63 L195.70,275.66 L195.85,275.74 L196.00,276.29 L196.10,276.59 L196.15,275.91 L196.30,276.38 L196.45,276.08 L196.60,276.39 L196.75,276.27 L196.80,276.06 L196.90,276.08 L197.05,276.15 L197.20,276.88 L197.35,276.49 L197.50,276.23 L197.65,276.93 L197.80,277.03 L197.95,276.50 L198.00,276.19 L198.10,276.25 L198.15,276.15 L198.20,276.40 L198.25,276.15 L198.30,276.30 L198.40,276.32 L198.45,276.64 L198.60,276.96 L198.75,276.82 L198.90,276.49 L199.05,276.49 L199.20,276.60 L199.35,276.45 L199.50,276.41 L199.60,276.13 L199.65,276.35 L199.80,277.03 L199.95,276.19 L200.10,276.56 L200.25,276.68 L200.30,276.91 L200.40,276.25 L200.55,276.29 L200.70,276.26 L200.85,276.39 L201.00,276.41 L201.15,276.89 L201.30,276.75 L201.45,276.73 L201.60,275.82 L201.70,275.79 L201.75,276.44 L201.90,276.55 L202.05,276.02 L202.20,276.02 L202.35,275.28 L202.40,275.62 L202.50,276.03 L202.65,276.11 L202.80,276.28 L202.95,276.52 L203.10,275.90 L203.25,275.84 L203.40,275.95 L203.55,276.38 L203.70,276.58 L203.80,276.86 L203.85,276.66 L204.00,276.61 L204.15,276.75 L204.30,276.47 L204.45,276.58 L204.50,276.07 L204.60,276.82 L204.75,276.28 L204.90,276.98 L205.05,276.71 L205.20,276.38 L205.35,276.21 L205.50,276.33 L205.65,276.72 L205.80,276.79 L205.90,276.20 L205.95,276.16 L206.10,276.62 L206.25,276.68 L206.40,276.48 L206.55,276.32 L206.60,276.70 L206.70,276.11 L206.85,276.40 L207.30,276.56 L208.00,277.06 L208.70,276.74 L209.40,276.98 L210.10,276.58 L210.80,276.33 L211.50,276.35 L212.20,277.06 L212.90,276.80 L213.60,276.41 L214.30,276.12 L215.00,276.60 L215.70,276.77 L216.40,276.52 L217.10,276.36 L217.80,276.77 L218.50,277.03 L219.20,276.33 L219.90,276.13 L220.60,276.44 L221.30,276.52 L222.00,276.78 L222.70,276.30 L223.40,276.90 L224.10,276.84 L224.80,276.60 L225.50,276.31 L226.20,277.07 L226.90,276.41 L227.60,276.92 L228.30,276.33 L229.00,276.32 L229.70,276.85 L230.40,276.38 L230.50,277.04 L230.65,276.58 L230.80,276.27 L230.95,276.30 L231.10,276.49 L231.25,276.73 L231.40,277.01 L231.55,276.20 L231.70,276.44 L231.80,276.26 L231.85,277.01 L232.00,276.17 L232.15,276.07 L232.30,276.06 L232.45,276.37 L232.50,276.87 L232.60,276.84 L232.75,276.67 L232.90,276.90 L233.05,276.80 L233.20,276.16 L233.35,275.96 L233.50,276.65 L233.65,276.39 L233.80,275.60 L233.90,276.17 L233.95,275.85 L234.10,275.73 L234.25,275.55 L234.40,275.23 L234.55,274.88 L234.60,275.08 L234.70,275.00 L234.85,275.34 L235.00,274.20 L235.15,274.67 L235.30,273.48 L235.45,273.12 L235.60,272.98 L235.75,272.27 L235.90,271.03 L236.00,271.23 L236.05,271.92 L236.20,272.53 L236.35,273.68 L236.50,273.47 L236.65,274.07 L236.70,274.74 L236.80,274.11 L236.95,274.80 L237.10,275.46 L237.25,275.64 L237.40,275.10 L237.55,275.26 L237.70,275.42 L237.85,276.39 L238.00,275.82 L238.10,276.37 L238.15,276.55 L238.30,276.06 L238.45,276.05 L238.60,276.78 L238.75,276.49 L238.80,276.14 L238.90,276.62 L239.05,276.25 L239.20,276.24 L239.35,275.98 L239.50,276.75 L239.65,276.93 L239.80,276.66 L239.95,276.98 L240.10,276.07 L240.20,276.29 L240.25,276.53 L240.40,277.02 L240.55,277.02 L240.70,276.46 L240.85,276.33 L240.90,276.51 L241.00,276.57 L241.15,277.01 L241.60,276.27 L242.30,276.90 L243.00,276.84 L243.70,276.92 L244.40,276.87 L245.10,276.71 L245.80,276.43 L246.50,276.42 L247.20,276.46 L247.90,276.88 L248.60,276.18 L249.30,276.30 L250.00,276.85 L250.70,276.35 L251.40,276.16 L252.10,276.13 L252.80,276.65 L253.50,276.43 L254.20,277.08 L254.90,276.98 L255.60,277.09 L256.30,276.36 L257.00,276.18 L257.70,276.20 L258.40,276.60 L259.10,276.81 L259.80,276.55 L260.50,276.33 L261.20,276.51 L261.90,276.71 L262.60,276.76 L263.30,276.81 L263.35,276.91 L263.50,276.72 L263.65,276.17 L263.80,276.88 L263.95,276.32 L264.00,276.59 L264.10,276.38 L264.25,276.73 L264.40,276.17 L264.55,276.19 L264.70,276.15 L264.85,276.02 L265.00,276.71 L265.15,276.35 L265.30,276.03 L265.40,276.05 L265.45,276.62 L265.60,276.04 L265.75,275.65 L265.90,276.09 L266.05,275.77 L266.10,276.05 L266.20,275.03 L266.35,275.16 L266.50,275.23 L266.65,274.91 L266.80,274.58 L266.95,273.22 L267.10,272.89 L267.25,272.02 L267.40,271.25 L267.50,271.38 L267.55,270.64 L267.70,269.78 L267.85,267.78 L268.00,266.54 L268.15,264.04 L268.20,263.07 L268.30,261.88 L268.45,264.54 L268.60,265.78 L268.75,268.00 L268.90,269.47 L269.05,270.27 L269.20,271.43 L269.35,272.04 L269.50,272.80 L269.60,273.25 L269.65,273.78 L269.80,274.32 L269.95,274.27 L270.10,274.42 L270.25,275.02 L270.30,275.45 L270.40,275.11 L270.55,275.43 L270.70,275.49 L270.85,276.21 L271.00,276.08 L271.15,275.69 L271.30,275.81 L271.45,276.17 L271.60,276.38 L271.70,276.50 L271.75,275.96 L271.90,276.07 L272.05,276.64 L272.20,276.38 L272.35,276.27 L272.40,276.30 L272.50,276.96 L272.65,276.34 L272.80,276.60 L272.95,276.40 L273.10,276.47 L273.25,276.93 L273.80,277.08 L274.50,276.46 L275.20,276.29 L275.90,276.83 L276.60,276.30 L277.30,276.11 L278.00,277.00 L278.70,276.52 L279.40,276.92 L280.10,276.51 L280.80,276.98 L281.50,276.56 L282.20,276.26 L282.90,276.11 L283.60,276.65 L284.30,276.74 L285.00,277.01 L285.70,276.19 L286.40,276.72 L287.10,276.46 L287.80,276.59 L287.95,276.23 L288.10,276.36 L288.25,276.59 L288.40,276.99 L288.50,276.17 L288.55,276.55 L288.70,276.86 L288.85,277.01 L289.00,276.22 L289.15,276.14 L289.20,276.95 L289.30,276.97 L289.45,276.45 L289.60,275.99 L289.75,276.83 L289.90,276.24 L290.05,276.71 L290.20,276.36 L290.35,276.48 L290.50,275.72 L290.60,276.26 L290.65,275.66 L290.80,275.69 L290.95,275.95 L291.10,275.72 L291.25,274.80 L291.30,274.74 L291.40,274.69 L291.55,274.41 L291.70,273.79 L291.85,272.93 L292.00,272.32 L292.15,271.91 L292.30,270.99 L292.45,271.22 L292.60,272.63 L292.70,273.33 L292.75,272.84 L292.80,273.85 L292.90,273.51 L292.95,274.17 L293.05,274.43 L293.10,274.65 L293.20,274.59 L293.25,274.82 L293.35,275.19 L293.40,275.13 L293.50,275.53 L293.55,275.39 L293.65,275.52 L293.70,275.17 L293.80,275.88 L293.85,275.80 L293.95,275.64 L294.00,276.20 L294.10,276.29 L294.15,276.00 L294.25,275.78 L294.30,276.10 L294.40,275.78 L294.45,275.82 L294.55,276.16 L294.60,275.83 L294.70,276.20 L294.75,276.28 L294.80,275.82 L294.85,276.42 L294.90,275.87 L295.00,276.53 L295.05,276.57 L295.15,276.31 L295.20,275.85 L295.30,276.29 L295.35,276.15 L295.45,276.71 L295.50,275.88 L295.60,276.57 L295.65,276.69 L295.75,276.39 L295.80,276.45 L295.90,275.78 L295.95,276.54 L296.05,275.98 L296.10,276.41 L296.20,276.29 L296.25,275.49 L296.35,276.02 L296.40,276.10 L296.50,275.11 L296.55,275.33 L296.65,275.58 L296.70,274.89 L296.80,275.44 L296.85,274.71 L296.90,275.14 L297.00,274.22 L297.15,274.14 L297.30,274.01 L297.45,273.85 L297.60,274.35 L297.75,274.96 L297.90,275.07 L298.05,275.03 L298.20,275.38 L298.30,275.47 L298.35,276.29 L298.50,276.17 L298.65,276.50 L298.80,275.86 L298.95,276.55 L299.00,275.90 L299.10,276.36 L299.25,276.51 L299.40,276.28 L299.55,276.82 L299.70,276.53 L299.85,276.58 L300.00,276.90 L300.15,276.14 L300.30,277.04 L300.40,276.68 L300.45,276.45 L300.60,276.86 L300.75,276.33 L300.90,277.07 L301.05,276.66 L301.10,276.44 L301.20,276.85 L301.35,276.53 L301.50,276.27 L301.65,276.83 L301.80,276.14 L302.50,276.92 L303.20,276.35 L303.90,276.74 L304.60,277.08 L305.30,276.69" fill="none" stroke="#1a10c0" stroke-width="1.4" stroke-linejoin="round"/>
<path d="M54.00,300.43 L54.70,300.15 L55.40,299.90 L56.10,299.93 L56.80,300.02 L57.50,300.39 L58.20,300.25 L58.90,300.31 L59.60,300.62 L60.30,300.01 L61.00,300.08 L61.70,300.42 L62.40,299.92 L63.10,299.90 L63.80,300.18 L64.50,299.99 L65.20,300.19 L65.90,300.08 L66.60,300.37 L67.30,300.37 L68.00,300.06 L68.70,300.40 L69.40,300.28 L70.10,300.01 L70.80,300.65 L71.50,300.09 L72.20,300.01 L72.70,299.96 L72.85,300.39 L72.90,300.58 L73.00,300.50 L73.15,300.19 L73.30,300.07 L73.45,299.86 L73.60,300.35 L73.75,300.26 L73.90,300.07 L74.05,300.28 L74.20,300.07 L74.30,300.44 L74.35,300.25 L74.50,299.80 L74.65,300.24 L74.80,299.44 L74.95,299.69 L75.00,299.54 L75.10,299.28 L75.25,298.90 L75.40,299.18 L75.55,298.19 L75.70,298.13 L75.85,297.82 L76.00,296.37 L76.15,295.39 L76.30,294.39 L76.40,295.23 L76.45,295.74 L76.60,296.91 L76.75,297.21 L76.90,297.94 L77.05,298.42 L77.10,298.36 L77.20,299.27 L77.35,299.48 L77.50,299.66 L77.65,299.27 L77.80,300.08 L77.95,300.11 L78.10,299.97 L78.25,300.26 L78.40,300.08 L78.50,299.93 L78.55,299.84 L78.70,299.98 L78.85,299.85 L79.00,300.10 L79.15,300.45 L79.20,300.41 L79.30,300.54 L79.45,300.44 L79.60,300.09 L79.75,300.32 L79.90,300.23 L80.60,300.53 L81.30,300.32 L82.00,300.11 L82.70,300.41 L83.40,300.67 L84.10,300.07 L84.80,300.60 L85.50,299.91 L86.20,300.11 L86.90,300.09 L87.60,300.50 L88.30,300.66 L89.00,300.50 L89.70,300.16 L90.40,300.60 L91.10,300.16 L91.80,300.09 L92.50,300.63 L93.20,300.40 L93.90,300.45 L94.60,300.43 L95.30,300.68 L96.00,300.28 L96.70,300.57 L97.40,300.46 L98.10,300.59 L98.80,300.25 L99.50,300.48 L100.20,300.36 L100.90,300.15 L101.60,300.07 L102.30,300.40 L103.00,299.96 L103.70,300.63 L104.40,300.02 L105.10,299.92 L105.80,299.99 L106.50,300.64 L107.20,300.18 L107.90,300.01 L108.60,299.92 L109.30,299.93 L110.00,300.45 L110.70,300.41 L111.40,300.46 L112.10,300.49 L112.80,299.95 L113.50,300.37 L114.20,300.19 L114.90,300.55 L115.05,300.55 L115.20,300.61 L115.35,299.94 L115.50,300.58 L115.60,300.62 L115.65,300.64 L115.80,299.97 L115.95,300.04 L116.10,299.95 L116.25,299.88 L116.30,300.52 L116.40,300.48 L116.55,300.32 L116.70,300.45 L116.85,300.25 L117.00,299.93 L117.15,299.71 L117.30,299.62 L117.45,300.03 L117.60,299.43 L117.70,299.38 L117.75,299.39 L117.90,298.79 L118.05,298.60 L118.20,298.13 L118.35,298.97 L118.40,298.83 L118.50,299.03 L118.65,299.82 L118.80,299.67 L118.95,300.10 L119.10,300.03 L119.25,299.65 L119.40,300.03 L119.55,300.10 L119.70,300.40 L119.80,300.08 L119.85,300.38 L120.00,300.27 L120.15,300.02 L120.30,300.55 L120.45,299.95 L120.50,300.53 L120.60,300.02 L120.75,299.89 L120.90,300.05 L121.05,300.50 L121.20,300.68 L121.90,299.90 L122.60,300.29 L123.30,300.29 L124.00,300.54 L124.70,300.05 L125.40,300.30 L126.10,300.18 L126.80,300.57 L127.50,300.11 L128.20,300.66 L128.90,300.13 L129.60,300.07 L130.30,300.43 L130.50,300.25 L130.65,299.91 L130.80,300.27 L130.95,299.74 L131.00,300.27 L131.10,300.09 L131.25,299.93 L131.40,299.41 L131.55,298.54 L131.70,297.51 L131.85,295.75 L132.00,293.25 L132.15,287.84 L132.30,280.61 L132.40,285.59 L132.45,287.93 L132.60,292.75 L132.75,296.16 L132.90,297.59 L133.05,298.56 L133.10,299.22 L133.20,299.09 L133.35,299.66 L133.50,299.96 L133.65,300.28 L133.80,300.37 L133.95,300.34 L134.50,300.17 L135.20,300.16 L135.90,300.02 L136.60,300.57 L137.30,300.43 L138.00,300.45 L138.10,299.98 L138.25,300.16 L138.40,300.37 L138.55,300.11 L138.70,299.59 L138.85,299.59 L139.00,299.48 L139.15,298.24 L139.30,296.99 L139.40,295.87 L139.45,295.42 L139.60,292.26 L139.75,286.32 L139.90,277.42 L140.05,286.39 L140.10,288.56 L140.20,292.00 L140.35,294.99 L140.50,297.10 L140.65,298.20 L140.80,299.55 L140.95,299.80 L141.10,299.57 L141.25,300.42 L141.40,299.83 L141.50,300.10 L141.55,300.59 L142.20,300.53 L142.90,300.49 L143.60,300.25 L144.30,300.06 L145.00,300.41 L145.70,299.99 L146.40,300.07 L147.10,300.21 L147.80,299.93 L148.50,300.22 L149.20,300.53 L149.90,300.45 L150.60,300.30 L151.30,300.41 L152.00,300.27 L152.70,300.01 L153.40,300.38 L154.10,300.22 L154.80,300.49 L155.50,300.63 L156.20,300.24 L156.90,300.36 L157.60,300.50 L158.30,300.24 L159.00,300.08 L159.70,300.48 L160.40,300.60 L161.10,300.52 L161.80,300.46 L162.50,300.58 L163.20,300.44 L163.90,300.41 L164.60,300.26 L165.30,300.15 L166.00,300.40 L166.70,299.98 L167.40,300.23 L168.10,300.52 L168.20,300.47 L168.35,300.40 L168.50,300.09 L168.65,300.23 L168.80,300.26 L168.95,300.39 L169.10,300.22 L169.25,300.43 L169.40,300.63 L169.50,300.03 L169.55,300.40 L169.70,300.50 L169.85,300.18 L170.00,300.25 L170.15,300.63 L170.20,299.88 L170.30,300.27 L170.45,299.95 L170.60,300.43 L170.75,300.54 L170.90,300.18 L171.05,299.81 L171.20,300.16 L171.35,300.08 L171.50,300.17 L171.60,299.96 L171.65,300.04 L171.80,300.11 L171.95,299.77 L172.10,299.55 L172.25,299.84 L172.30,299.19 L172.40,299.44 L172.55,298.99 L172.70,299.01 L172.85,298.77 L173.00,299.68 L173.15,299.36 L173.30,299.27 L173.45,299.57 L173.60,299.77 L173.70,299.52 L173.75,299.86 L173.90,299.93 L174.05,300.21 L174.20,299.98 L174.35,299.95 L174.40,299.92 L174.50,300.36 L174.65,300.54 L174.80,300.23 L174.95,300.00 L175.10,300.48 L175.25,300.16 L175.40,300.03 L175.55,299.97 L175.70,300.49 L175.80,300.52 L175.85,300.38 L176.00,300.26 L176.15,300.33 L176.30,300.07 L176.45,300.66 L176.50,300.17 L176.60,300.40 L176.75,300.55 L176.90,300.55 L177.05,300.27 L177.20,300.13 L177.90,300.34 L178.60,300.00 L179.30,300.57 L180.00,300.18 L180.70,300.58 L181.40,300.11 L182.10,300.20 L182.80,300.10 L183.50,300.24 L184.20,300.05 L184.90,299.90 L185.60,300.48 L186.30,300.12 L187.00,300.10 L187.70,300.14 L188.40,300.28 L189.10,300.24 L189.80,300.41 L190.50,300.42 L191.20,300.18 L191.35,300.62 L191.50,300.56 L191.65,299.91 L191.80,300.52 L191.90,300.57 L191.95,300.47 L192.10,299.93 L192.25,300.46 L192.40,300.27 L192.55,299.73 L192.60,299.71 L192.70,300.42 L192.85,300.10 L193.00,299.67 L193.15,299.41 L193.30,299.25 L193.45,299.07 L193.60,299.17 L193.75,298.38 L193.90,297.63 L194.00,297.73 L194.05,297.35 L194.20,295.80 L194.35,294.98 L194.50,292.89 L194.65,294.89 L194.70,295.31 L194.80,296.38 L194.95,297.35 L195.10,298.18 L195.25,298.26 L195.40,299.10 L195.55,299.31 L195.70,299.73 L195.85,299.68 L196.00,300.18 L196.10,299.99 L196.15,299.79 L196.30,299.84 L196.45,299.83 L196.60,300.16 L196.75,299.84 L196.80,300.18 L196.90,299.94 L197.05,300.23 L197.20,300.25 L197.35,300.30 L197.50,300.57 L198.20,299.90 L198.90,300.57 L199.60,300.27 L200.30,300.35 L201.00,300.43 L201.70,300.57 L202.40,300.20 L203.10,300.24 L203.80,300.67 L204.50,299.96 L205.20,300.41 L205.90,300.41 L206.60,299.92 L207.30,300.39 L208.00,300.45 L208.70,300.65 L209.40,300.16 L210.10,300.69 L210.80,300.31 L211.50,300.29 L212.20,300.62 L212.90,299.93 L213.60,300.47 L214.30,300.40 L215.00,300.17 L215.70,300.59 L216.40,300.19 L217.10,300.28 L217.80,300.32 L218.50,300.52 L219.20,300.07 L219.90,300.25 L220.60,300.24 L221.30,300.34 L222.00,300.56 L222.70,300.13 L223.40,300.56 L224.10,300.22 L224.80,300.30 L225.50,300.12 L226.20,300.31 L226.90,300.68 L227.60,300.42 L228.30,300.53 L229.00,300.16 L229.70,300.15 L230.40,300.14 L231.10,300.37 L231.80,300.41 L232.50,300.53 L232.80,299.93 L232.95,300.47 L233.10,300.60 L233.20,300.33 L233.25,299.93 L233.40,300.13 L233.55,299.89 L233.70,300.04 L233.85,300.62 L233.90,300.36 L234.00,300.40 L234.15,300.50 L234.30,300.58 L234.45,300.33 L234.60,300.32 L234.75,300.31 L234.90,300.33 L235.05,300.22 L235.20,300.24 L235.30,299.83 L235.35,300.17 L235.50,299.93 L235.65,300.08 L235.80,299.43 L235.95,299.34 L236.00,299.16 L236.10,299.61 L236.25,299.46 L236.40,298.92 L236.55,299.03 L236.70,299.65 L236.85,299.82 L237.00,299.80 L237.15,299.68 L237.30,299.81 L237.40,299.95 L237.45,299.89 L237.60,300.04 L237.75,300.26 L237.90,300.52 L238.05,299.85 L238.10,300.27 L238.20,299.86 L238.35,299.94 L238.50,300.50 L238.65,300.32 L238.80,300.61 L238.95,300.24 L239.10,299.89 L239.25,300.20 L239.40,300.36 L239.50,300.64 L239.55,300.68 L239.70,300.27 L239.85,300.23 L240.20,299.98 L240.90,300.41 L241.60,300.07 L242.30,300.02 L243.00,299.91 L243.70,299.90 L244.40,300.45 L245.10,300.00 L245.80,300.67 L246.50,299.97 L247.20,300.60 L247.90,300.00 L248.60,299.91 L249.30,300.48 L250.00,300.09 L250.70,300.49 L251.40,300.05 L252.10,299.94 L252.80,300.52 L253.50,300.47 L254.20,300.58 L254.90,300.48 L255.60,299.97 L256.30,300.40 L257.00,300.47 L257.70,300.27 L258.40,300.65 L259.10,300.10 L259.80,300.67 L260.50,300.47 L261.20,299.91 L261.90,299.91 L262.60,300.42 L263.30,300.55 L264.00,299.96 L264.70,300.15 L265.40,300.48 L266.10,300.02 L266.35,300.56 L266.50,300.26 L266.65,299.90 L266.80,300.14 L266.95,300.28 L267.10,300.15 L267.25,300.30 L267.40,299.83 L267.50,300.32 L267.55,299.95 L267.70,300.09 L267.85,299.97 L268.00,299.66 L268.15,299.44 L268.20,299.69 L268.30,299.64 L268.45,299.17 L268.60,298.55 L268.75,297.74 L268.90,296.76 L269.05,296.44 L269.20,294.82 L269.35,293.05 L269.50,290.17 L269.60,292.12 L269.65,293.17 L269.80,294.92 L269.95,296.14 L270.10,296.96 L270.25,297.85 L270.30,298.43 L270.40,298.40 L270.55,299.09 L270.70,299.36 L270.85,299.85 L271.00,299.97 L271.15,299.70 L271.30,299.58 L271.45,299.87 L271.60,300.05 L271.70,300.22 L271.75,300.42 L271.90,300.51 L272.05,299.86 L272.20,300.51 L272.35,300.51 L272.40,300.55 L272.50,300.32 L272.65,300.09 L273.10,300.57 L273.80,300.54 L274.50,300.45 L275.20,300.63 L275.90,300.18 L276.60,299.97 L277.30,300.34 L278.00,300.54 L278.70,300.06 L279.40,300.50 L280.10,300.65 L280.80,300.09 L281.50,300.39 L282.20,300.44 L282.90,300.27 L283.60,300.07 L284.30,300.10 L285.00,300.50 L285.70,300.53 L286.40,300.27 L287.10,299.97 L287.80,300.55 L288.50,300.52 L289.20,300.08 L289.65,300.35 L289.80,300.61 L289.90,300.59 L289.95,300.30 L290.10,300.26 L290.25,300.34 L290.40,300.02 L290.55,300.01 L290.60,299.99 L290.70,300.40 L290.85,300.10 L291.00,300.24 L291.15,300.07 L291.30,300.11 L291.45,299.75 L291.60,299.58 L291.75,300.22 L291.90,299.57 L292.00,299.22 L292.05,299.57 L292.20,299.41 L292.35,298.54 L292.50,298.40 L292.65,297.55 L292.70,297.42 L292.80,296.42 L292.95,297.30 L293.10,298.72 L293.25,299.11 L293.40,299.17 L293.55,299.51 L293.70,299.48 L293.85,300.05 L294.00,299.88 L294.10,300.36 L294.15,300.24 L294.30,300.35 L294.45,300.52 L294.60,299.99 L294.65,299.82 L294.75,299.97 L294.80,299.96 L294.90,299.89 L294.95,299.87 L295.05,300.29 L295.10,300.54 L295.20,300.22 L295.25,300.61 L295.35,300.58 L295.40,299.91 L295.50,300.33 L295.55,300.17 L295.65,299.95 L295.70,300.62 L295.80,300.05 L295.85,300.29 L295.95,300.34 L296.00,300.59 L296.15,300.34 L296.20,300.11 L296.30,300.14 L296.45,299.87 L296.60,300.47 L296.75,300.42 L296.90,299.72 L297.05,299.45 L297.20,299.47 L297.35,299.33 L297.50,299.49 L297.60,299.26 L297.65,299.07 L297.80,297.94 L297.95,299.03 L298.10,299.34 L298.25,299.57 L298.30,299.92 L298.40,299.31 L298.55,299.54 L298.70,300.14 L298.85,300.38 L299.00,300.24 L299.15,299.99 L299.30,300.26 L299.45,300.42 L299.60,299.92 L299.70,300.11 L299.75,300.06 L299.90,299.96 L300.05,300.26 L300.20,300.01 L300.35,300.08 L300.40,300.00 L300.50,300.43 L300.65,299.90 L300.80,300.47 L300.95,300.05 L301.10,299.93 L301.80,300.64 L302.50,300.08 L303.20,300.65 L303.90,300.59 L304.60,300.61 L305.30,300.01" fill="none" stroke="#1a10c0" stroke-width="1.4" stroke-linejoin="round"/>
<path d="M54.00,323.75 L54.70,323.40 L55.40,324.23 L56.10,324.14 L56.80,323.93 L57.50,323.75 L58.20,323.64 L58.90,324.12 L59.60,323.78 L60.30,323.93 L61.00,323.44 L61.70,323.52 L62.40,323.36 L63.10,324.01 L63.80,323.85 L64.50,323.44 L65.20,324.17 L65.90,323.57 L66.60,323.71 L67.30,323.46 L68.00,323.57 L68.70,324.14 L69.40,323.63 L70.10,323.47 L70.80,323.79 L71.50,323.61 L72.20,324.19 L72.90,323.37 L73.05,324.22 L73.20,323.28 L73.35,324.10 L73.50,323.85 L73.60,323.38 L73.65,323.63 L73.80,323.41 L73.95,323.33 L74.10,323.22 L74.25,323.31 L74.30,323.91 L74.40,323.86 L74.55,323.68 L74.70,322.71 L74.85,322.73 L75.00,323.13 L75.15,322.02 L75.30,322.36 L75.45,321.51 L75.60,321.68 L75.70,320.30 L75.75,320.86 L75.90,319.58 L76.05,318.37 L76.20,316.98 L76.35,316.23 L76.40,315.32 L76.50,313.62 L76.65,311.41 L76.80,308.82 L76.95,304.30 L77.10,299.87 L77.25,304.22 L77.40,308.09 L77.55,311.75 L77.70,314.14 L77.80,314.99 L77.85,315.48 L78.00,317.06 L78.15,318.84 L78.30,319.74 L78.45,320.33 L78.50,320.49 L78.60,321.31 L78.75,321.93 L78.90,322.44 L79.05,322.55 L79.20,322.43 L79.35,322.51 L79.50,323.35 L79.65,323.16 L79.80,323.58 L79.90,322.98 L79.95,323.76 L80.10,323.35 L80.25,323.92 L80.40,323.98 L80.55,323.65 L80.60,323.18 L80.70,324.09 L80.85,323.68 L81.00,324.10 L81.30,323.52 L82.00,323.47 L82.70,324.13 L83.40,323.66 L84.10,323.46 L84.80,323.67 L85.50,323.89 L86.20,323.30 L86.90,323.82 L87.60,323.75 L88.30,323.82 L89.00,323.42 L89.70,324.01 L90.40,324.12 L91.10,324.17 L91.80,323.62 L92.50,324.01 L93.20,323.68 L93.90,324.05 L94.60,323.36 L95.30,324.17 L96.00,324.25 L96.70,323.79 L97.40,323.81 L98.10,323.83 L98.80,323.84 L99.50,323.32 L100.20,324.27 L100.90,323.52 L101.60,323.48 L102.30,323.40 L103.00,323.55 L103.70,324.12 L104.40,323.33 L105.10,323.40 L105.80,324.00 L106.50,323.50 L107.20,323.32 L107.90,323.90 L108.60,323.88 L109.30,323.82 L110.00,324.00 L110.70,323.40 L111.40,324.17 L112.10,324.02 L112.80,323.34 L113.50,323.42 L114.20,323.79 L114.60,323.80 L114.75,323.57 L114.90,323.42 L115.05,323.70 L115.20,323.43 L115.35,323.88 L115.50,324.14 L115.60,323.43 L115.65,323.85 L115.80,324.02 L115.95,323.43 L116.10,324.08 L116.25,324.18 L116.30,323.63 L116.40,323.65 L116.55,324.04 L116.70,323.70 L116.85,323.54 L117.00,324.04 L117.15,323.82 L117.30,323.30 L117.45,323.11 L117.60,323.08 L117.70,323.08 L117.75,323.57 L117.90,323.19 L118.05,323.04 L118.20,322.62 L118.35,322.98 L118.40,322.28 L118.50,322.91 L118.65,323.55 L118.80,323.68 L118.95,323.12 L119.10,323.39 L119.25,323.67 L119.40,323.46 L119.55,323.67 L119.70,323.25 L119.80,323.63 L119.85,323.71 L120.00,323.25 L120.15,323.38 L120.30,324.22 L120.45,324.04 L120.50,324.20 L120.60,323.91 L120.75,324.09 L120.90,324.17 L121.05,324.17 L121.20,323.32 L121.35,323.93 L121.50,323.56 L121.65,323.97 L121.90,323.57 L122.60,323.84 L123.30,324.22 L124.00,323.92 L124.70,323.54 L125.10,323.81 L125.25,323.72 L125.40,324.23 L125.55,323.56 L125.70,323.58 L125.85,323.91 L126.00,323.38 L126.10,323.85 L126.15,324.21 L126.30,323.76 L126.45,323.50 L126.60,323.69 L126.75,323.74 L126.80,323.35 L126.90,323.31 L127.05,323.30 L127.20,323.44 L127.35,323.53 L127.50,323.37 L127.65,323.29 L127.80,323.09 L127.95,323.49 L128.10,323.72 L128.20,323.44 L128.25,323.38 L128.40,323.37 L128.55,322.81 L128.70,323.20 L128.85,322.80 L128.90,322.83 L129.00,322.78 L129.15,322.43 L129.30,322.03 L129.45,321.67 L129.60,321.31 L129.75,321.20 L129.90,320.60 L130.05,320.24 L130.20,319.00 L130.30,318.83 L130.35,319.06 L130.47,317.70 L130.50,317.82 L130.62,318.48 L130.65,318.44 L130.78,319.80 L130.80,319.20 L130.93,320.20 L130.95,319.66 L131.00,319.74 L131.08,320.79 L131.10,320.41 L131.23,320.34 L131.25,320.70 L131.38,320.92 L131.40,321.23 L131.53,320.62 L131.55,320.73 L131.68,321.28 L131.70,321.01 L131.83,319.96 L131.85,320.04 L131.98,319.17 L132.00,319.32 L132.13,317.76 L132.15,317.70 L132.28,315.21 L132.30,314.44 L132.40,311.79 L132.43,310.74 L132.45,310.01 L132.50,307.63 L132.58,311.26 L132.60,311.90 L132.73,315.87 L132.75,315.54 L132.88,318.72 L132.90,318.15 L133.03,320.48 L133.05,320.49 L133.10,320.84 L133.18,321.89 L133.20,321.63 L133.33,322.13 L133.35,322.58 L133.48,323.10 L133.50,322.89 L133.63,322.95 L133.65,323.06 L133.78,323.25 L133.80,323.54 L133.93,323.24 L133.95,323.35 L134.08,323.60 L134.10,323.44 L134.23,323.43 L134.25,323.91 L134.38,324.01 L134.40,323.67 L134.50,323.63 L134.55,323.38 L134.70,323.52 L134.85,323.38 L135.00,323.83 L135.15,323.84 L135.20,323.35 L135.30,324.19 L135.45,323.60 L135.60,324.12 L135.75,324.12 L135.90,324.24 L136.60,323.50 L137.30,323.72 L138.00,324.20 L138.47,323.27 L138.62,323.28 L138.70,323.78 L138.78,323.69 L138.93,324.05 L139.08,323.81 L139.23,323.43 L139.38,323.66 L139.40,323.14 L139.53,322.83 L139.68,322.44 L139.83,321.29 L139.98,319.91 L140.10,318.55 L140.13,317.80 L140.28,315.13 L140.43,309.75 L140.50,306.33 L140.58,309.59 L140.73,314.82 L140.80,316.51 L140.88,318.19 L141.03,320.23 L141.18,321.85 L141.33,322.77 L141.48,322.83 L141.50,322.84 L141.63,323.31 L141.78,323.90 L141.93,323.39 L142.08,323.67 L142.20,324.00 L142.23,323.37 L142.38,323.55 L142.90,324.26 L143.60,324.12 L144.30,323.81 L145.00,323.41 L145.70,324.19 L146.40,323.99 L147.10,324.12 L147.80,324.29 L148.50,324.19 L149.20,323.72 L149.90,323.46 L150.60,323.59 L151.30,323.81 L152.00,323.80 L152.70,323.49 L153.40,323.48 L154.10,323.93 L154.80,323.90 L155.50,323.65 L156.20,324.29 L156.90,323.94 L157.60,323.34 L158.30,323.71 L159.00,324.09 L159.70,323.61 L160.40,323.99 L161.10,323.30 L161.80,323.60 L162.50,324.14 L163.20,323.89 L163.90,323.97 L164.60,323.50 L165.30,323.80 L166.00,323.85 L166.70,323.56 L167.40,323.94 L168.10,323.82 L168.70,324.28 L168.80,323.85 L168.85,323.69 L169.00,323.39 L169.15,323.42 L169.30,324.02 L169.45,323.36 L169.50,323.35 L169.60,323.41 L169.75,323.75 L169.90,324.03 L170.05,323.80 L170.20,323.97 L170.35,323.19 L170.50,323.11 L170.65,323.82 L170.80,323.32 L170.90,323.67 L170.95,323.28 L171.10,323.01 L171.25,323.01 L171.40,322.72 L171.55,323.37 L171.60,322.99 L171.70,322.63 L171.85,322.51 L172.00,322.17 L172.15,321.51 L172.30,321.93 L172.45,321.12 L172.60,320.89 L172.75,319.62 L172.90,318.89 L173.00,317.80 L173.05,317.20 L173.20,316.73 L173.35,318.01 L173.50,318.59 L173.65,320.08 L173.70,320.27 L173.80,320.23 L173.95,321.14 L174.10,322.00 L174.25,321.95 L174.40,322.74 L174.55,322.30 L174.70,322.67 L174.85,323.19 L175.00,322.84 L175.10,323.01 L175.15,323.62 L175.30,323.33 L175.45,323.72 L175.60,323.24 L175.75,323.22 L175.80,323.42 L175.90,323.28 L176.05,324.10 L176.20,323.45 L176.35,323.75 L176.50,323.32 L176.65,323.76 L176.80,323.62 L176.95,323.65 L177.10,323.32 L177.20,323.39 L177.25,324.09 L177.40,323.62 L177.55,323.52 L177.90,323.48 L178.60,323.58 L179.30,323.53 L180.00,323.33 L180.70,323.96 L181.40,323.64 L182.10,323.46 L182.80,324.01 L183.50,323.39 L184.20,323.57 L184.90,324.14 L185.60,323.43 L186.30,323.74 L187.00,324.14 L187.70,324.10 L188.40,323.46 L189.10,323.65 L189.80,324.02 L190.50,323.67 L191.20,324.25 L191.45,323.49 L191.60,324.22 L191.75,323.77 L191.90,323.48 L192.05,323.69 L192.20,323.35 L192.35,323.90 L192.50,323.41 L192.60,324.02 L192.65,323.69 L192.80,323.41 L192.95,323.20 L193.10,323.45 L193.25,322.90 L193.30,323.50 L193.40,322.61 L193.55,322.73 L193.70,322.40 L193.85,321.65 L194.00,321.51 L194.15,320.28 L194.20,320.21 L194.30,319.34 L194.35,318.63 L194.45,317.66 L194.50,316.76 L194.60,315.46 L194.65,316.86 L194.70,316.99 L194.75,317.93 L194.80,317.92 L194.90,319.32 L194.95,319.52 L195.05,320.37 L195.10,320.47 L195.20,320.77 L195.25,321.24 L195.35,321.55 L195.40,321.62 L195.50,322.50 L195.55,322.19 L195.65,322.52 L195.70,323.12 L195.80,323.14 L195.85,323.31 L195.95,323.39 L196.00,322.70 L196.10,322.91 L196.15,322.69 L196.25,323.37 L196.30,323.36 L196.40,323.05 L196.45,323.11 L196.55,323.33 L196.60,323.35 L196.70,322.84 L196.75,323.40 L196.80,322.87 L196.85,323.10 L196.90,322.60 L197.00,322.41 L197.05,323.13 L197.15,322.78 L197.20,322.67 L197.30,321.77 L197.35,321.64 L197.45,321.47 L197.50,321.34 L197.60,321.06 L197.65,320.92 L197.75,320.09 L197.80,320.08 L197.90,320.95 L197.95,320.73 L198.05,321.81 L198.10,321.72 L198.20,322.19 L198.25,321.88 L198.35,322.31 L198.40,322.67 L198.50,322.53 L198.55,322.26 L198.65,323.25 L198.70,323.25 L198.80,322.88 L198.85,322.68 L198.90,323.54 L198.95,323.33 L199.00,322.81 L199.10,323.07 L199.15,322.96 L199.25,323.68 L199.30,323.12 L199.40,323.85 L199.45,323.69 L199.55,323.04 L199.60,323.65 L199.70,323.34 L199.75,323.69 L199.85,323.75 L199.90,323.19 L200.00,322.96 L200.05,323.80 L200.15,323.22 L200.20,323.69 L200.30,323.38 L200.35,323.38 L200.45,323.37 L200.50,323.11 L200.60,322.80 L200.65,322.32 L200.75,322.79 L200.80,322.42 L200.90,322.28 L200.95,322.56 L201.00,321.62 L201.05,322.10 L201.10,321.21 L201.20,321.49 L201.25,321.79 L201.35,321.60 L201.50,322.32 L201.65,323.08 L201.70,322.85 L201.80,322.92 L201.95,322.83 L202.10,322.80 L202.25,323.22 L202.40,323.37 L202.55,323.24 L202.70,323.40 L202.85,323.28 L203.00,323.88 L203.10,323.86 L203.15,323.44 L203.30,323.47 L203.45,323.76 L203.60,323.70 L203.75,324.20 L203.80,323.62 L203.90,323.57 L204.05,324.16 L204.20,323.42 L204.35,323.85 L204.50,323.62 L204.65,324.11 L205.20,323.85 L205.90,324.06 L206.60,323.47 L207.30,323.97 L208.00,323.90 L208.70,323.76 L209.40,324.07 L210.10,324.13 L210.80,323.41 L211.50,323.59 L212.20,323.66 L212.90,323.51 L213.60,323.36 L214.30,323.58 L215.00,323.50 L215.70,324.00 L216.40,323.75 L217.10,323.41 L217.80,323.62 L218.50,323.77 L219.20,323.66 L219.90,323.47 L220.60,323.37 L221.30,323.31 L222.00,324.29 L222.70,324.05 L223.40,323.38 L224.10,324.02 L224.80,324.28 L225.50,323.86 L226.20,323.41 L226.90,323.79 L227.60,323.73 L228.30,323.49 L229.00,323.84 L229.70,323.31 L230.40,324.22 L231.10,323.94 L231.50,323.92 L231.65,324.22 L231.80,323.94 L231.95,323.53 L232.10,323.52 L232.25,323.41 L232.40,323.29 L232.50,324.04 L232.55,324.10 L232.70,323.55 L232.85,323.43 L233.00,323.86 L233.15,324.06 L233.20,324.13 L233.30,323.36 L233.45,323.95 L233.60,323.97 L233.75,323.84 L233.90,323.38 L234.05,323.19 L234.20,323.76 L234.35,323.18 L234.50,323.13 L234.60,323.23 L234.65,323.01 L234.80,323.32 L234.95,322.55 L235.10,322.14 L235.25,322.40 L235.30,322.36 L235.40,322.32 L235.55,321.81 L235.70,321.52 L235.85,320.97 L236.00,319.79 L236.15,320.52 L236.30,320.78 L236.45,321.40 L236.60,322.08 L236.70,321.81 L236.75,322.52 L236.90,322.26 L237.05,322.76 L237.20,323.46 L237.35,322.73 L237.40,322.72 L237.50,323.20 L237.65,323.05 L237.80,323.66 L237.95,323.01 L238.10,323.90 L238.25,323.96 L238.40,323.92 L238.55,323.59 L238.70,323.47 L238.80,323.87 L238.85,323.73 L239.00,323.65 L239.15,323.58 L239.30,323.69 L239.45,323.93 L239.50,324.09 L239.60,324.17 L239.75,323.44 L239.90,323.57 L240.05,323.73 L240.20,323.85 L240.35,323.64 L240.90,323.49 L241.60,323.38 L242.30,323.62 L243.00,323.76 L243.70,324.27 L244.40,324.21 L245.10,324.17 L245.80,324.27 L246.50,324.26 L247.20,323.92 L247.90,324.11 L248.60,323.36 L249.30,323.98 L250.00,323.91 L250.70,323.60 L251.40,323.87 L252.10,324.25 L252.80,323.78 L253.50,323.95 L254.20,323.60 L254.90,323.64 L255.60,324.18 L256.30,323.33 L256.80,323.49 L256.95,323.97 L257.00,323.74 L257.10,323.38 L257.25,323.95 L257.40,323.66 L257.55,323.87 L257.70,323.70 L257.85,323.81 L258.00,323.85 L258.15,323.67 L258.30,323.39 L258.40,323.45 L258.45,324.16 L258.60,323.81 L258.75,323.36 L258.90,324.10 L259.05,323.48 L259.10,323.32 L259.20,323.74 L259.35,323.44 L259.50,323.65 L259.65,323.69 L259.80,323.32 L259.95,323.62 L260.10,323.11 L260.25,323.44 L260.40,323.44 L260.50,322.86 L260.55,323.16 L260.70,322.70 L260.85,322.92 L261.00,323.16 L261.15,322.62 L261.20,322.70 L261.30,322.56 L261.45,322.19 L261.60,323.29 L261.75,323.20 L261.90,322.73 L262.05,323.58 L262.20,323.24 L262.35,323.10 L262.50,323.96 L262.60,323.60 L262.65,323.83 L262.80,323.23 L262.95,323.91 L263.10,323.22 L263.25,323.43 L263.30,323.57 L263.40,323.22 L263.55,323.82 L263.70,323.45 L263.85,323.55 L264.00,323.97 L264.15,323.69 L264.30,324.16 L264.45,323.90 L264.60,324.15 L264.70,323.85 L264.75,324.20 L264.90,324.16 L265.05,323.46 L265.20,324.03 L265.35,323.63 L265.40,324.05 L265.50,323.97 L265.65,324.11 L265.80,323.41 L266.10,323.66 L266.50,324.01 L266.65,324.21 L266.80,323.98 L266.95,323.28 L267.10,323.83 L267.25,323.30 L267.40,323.73 L267.50,323.96 L267.55,323.26 L267.70,324.02 L267.85,323.72 L268.00,323.22 L268.15,323.07 L268.20,323.28 L268.30,323.59 L268.45,323.18 L268.60,322.51 L268.75,322.16 L268.90,321.92 L269.05,322.19 L269.20,321.03 L269.35,320.70 L269.50,319.54 L269.60,319.21 L269.65,318.48 L269.80,316.77 L269.95,315.61 L270.10,312.84 L270.25,315.42 L270.30,316.23 L270.40,317.58 L270.55,318.12 L270.70,319.60 L270.85,320.30 L271.00,321.35 L271.15,322.26 L271.30,322.61 L271.45,322.18 L271.60,322.58 L271.70,323.35 L271.75,323.28 L271.90,323.14 L272.05,323.35 L272.20,323.13 L272.35,323.89 L272.40,323.46 L272.50,323.97 L272.65,323.75 L272.80,323.25 L272.95,323.53 L273.10,323.44 L273.25,324.14 L273.40,323.84 L273.55,323.31 L273.70,323.44 L273.80,323.64 L274.50,323.76 L275.20,323.87 L275.90,323.69 L276.60,323.65 L277.30,323.31 L278.00,323.88 L278.70,323.63 L279.40,323.32 L280.10,323.76 L280.80,324.29 L281.50,323.35 L282.20,323.45 L282.90,323.97 L283.60,323.57 L284.30,323.57 L285.00,323.80 L285.70,323.56 L286.40,323.87 L287.10,323.83 L287.80,324.26 L288.50,324.29 L289.20,323.33 L289.90,323.85 L290.00,324.06 L290.15,324.15 L290.30,324.05 L290.45,323.90 L290.60,323.90 L290.75,323.61 L290.90,323.52 L291.05,324.02 L291.20,324.07 L291.30,324.12 L291.35,323.85 L291.50,323.43 L291.65,323.85 L291.80,323.76 L291.95,323.45 L292.00,323.55 L292.10,323.19 L292.25,323.26 L292.40,322.95 L292.55,322.39 L292.70,322.39 L292.85,322.02 L293.00,322.23 L293.15,321.14 L293.30,320.27 L293.40,319.53 L293.45,319.17 L293.60,318.05 L293.75,319.07 L293.90,319.91 L294.05,321.52 L294.10,321.32 L294.20,321.68 L294.35,322.26 L294.50,322.35 L294.65,322.49 L294.80,322.60 L294.90,322.95 L294.95,323.01 L295.05,323.52 L295.10,323.38 L295.20,323.84 L295.25,323.27 L295.35,323.90 L295.40,323.59 L295.50,323.13 L295.55,323.24 L295.65,323.67 L295.70,324.09 L295.80,323.48 L295.85,323.91 L295.95,323.58 L296.00,324.03 L296.10,323.23 L296.15,323.65 L296.20,324.07 L296.25,323.45 L296.30,323.43 L296.40,323.19 L296.45,323.33 L296.55,323.43 L296.60,323.86 L296.70,323.36 L296.75,323.53 L296.85,323.31 L296.90,323.70 L297.00,323.93 L297.05,323.70 L297.15,323.21 L297.20,323.72 L297.30,323.90 L297.45,323.44 L297.60,322.79 L297.75,323.36 L297.90,323.21 L298.05,322.41 L298.20,321.86 L298.30,321.62 L298.35,321.81 L298.50,321.57 L298.65,321.91 L298.80,322.64 L298.95,322.28 L299.00,322.50 L299.10,323.09 L299.25,323.20 L299.40,323.12 L299.55,323.53 L299.70,323.29 L299.85,323.08 L300.00,323.50 L300.15,323.18 L300.30,323.80 L300.40,323.52 L300.45,323.69 L300.60,323.82 L300.75,323.50 L300.90,323.72 L301.05,323.28 L301.10,324.19 L301.20,323.84 L301.35,324.27 L301.50,323.34 L301.65,323.90 L301.80,324.01 L301.95,323.62 L302.10,323.39 L302.50,323.45 L303.20,323.44 L303.90,324.07 L304.60,323.39 L305.30,324.11" fill="none" stroke="#10c010" stroke-width="1.4" stroke-linejoin="round"/>
<path d="M54.00,347.12 L54.70,347.24 L55.40,347.29 L56.10,347.25 L56.80,347.36 L57.50,347.30 L58.20,347.03 L58.90,347.44 L59.60,346.96 L60.30,347.41 L61.00,347.46 L61.70,347.48 L62.40,347.01 L63.10,347.47 L63.80,347.68 L64.50,347.15 L65.20,346.98 L65.90,347.22 L66.60,347.64 L67.30,346.83 L68.00,346.71 L68.70,347.18 L69.40,347.35 L70.10,347.47 L70.80,347.06 L71.50,347.68 L72.20,346.90 L72.25,347.43 L72.40,346.75 L72.55,346.68 L72.70,346.77 L72.85,346.68 L72.90,347.12 L73.00,347.16 L73.15,346.76 L73.30,347.49 L73.45,346.88 L73.60,346.62 L73.75,346.59 L73.90,347.08 L74.05,347.18 L74.20,346.31 L74.30,346.08 L74.35,346.78 L74.50,346.07 L74.65,346.60 L74.80,345.84 L74.95,345.64 L75.00,345.22 L75.10,345.39 L75.25,344.52 L75.40,343.73 L75.55,343.49 L75.70,341.67 L75.85,341.02 L76.00,338.75 L76.15,337.34 L76.30,334.60 L76.40,336.79 L76.45,336.75 L76.60,339.25 L76.75,340.69 L76.90,342.48 L77.05,343.53 L77.10,343.51 L77.20,343.63 L77.35,344.31 L77.50,344.85 L77.65,345.44 L77.80,345.58 L77.95,345.82 L78.10,346.59 L78.25,346.65 L78.40,346.44 L78.50,347.21 L78.55,346.47 L78.70,346.91 L78.85,346.57 L79.00,347.33 L79.15,347.39 L79.20,346.80 L79.30,347.30 L79.45,347.41 L79.60,346.89 L79.75,346.96 L79.90,347.13 L80.05,347.54 L80.20,346.82 L80.60,347.36 L81.30,347.29 L82.00,347.15 L82.70,347.28 L83.40,347.58 L84.10,346.91 L84.80,347.58 L85.50,347.06 L86.20,347.48 L86.90,347.56 L87.60,346.88 L88.30,347.56 L89.00,347.69 L89.70,347.00 L90.40,346.72 L91.10,346.81 L91.80,347.67 L92.50,346.71 L93.20,347.61 L93.90,346.85 L94.60,347.44 L95.30,346.80 L96.00,346.87 L96.70,347.38 L97.40,346.79 L98.10,347.04 L98.80,347.62 L99.50,347.42 L100.20,347.58 L100.90,347.68 L101.60,346.73 L102.30,346.93 L103.00,347.49 L103.70,347.39 L104.40,346.74 L105.10,347.20 L105.80,346.93 L106.50,347.13 L107.20,346.80 L107.90,346.72 L108.60,347.69 L109.30,347.02 L110.00,347.58 L110.70,346.82 L111.40,347.19 L112.10,346.84 L112.80,347.13 L113.50,346.88 L114.20,347.38 L114.90,346.84 L115.05,347.43 L115.20,347.19 L115.35,346.80 L115.50,347.04 L115.60,347.18 L115.65,347.60 L115.80,347.02 L115.95,346.87 L116.10,347.61 L116.25,347.51 L116.30,347.35 L116.40,346.88 L116.55,346.75 L116.70,346.79 L116.85,346.54 L117.00,346.44 L117.15,346.80 L117.30,346.57 L117.45,346.54 L117.60,346.11 L117.70,345.55 L117.75,346.12 L117.90,345.66 L118.05,344.99 L118.20,344.25 L118.35,345.14 L118.40,345.63 L118.50,345.88 L118.65,346.14 L118.80,346.14 L118.95,346.30 L119.10,346.58 L119.25,347.27 L119.40,346.78 L119.55,346.86 L119.70,346.94 L119.80,346.70 L119.85,347.57 L120.00,346.61 L120.15,347.23 L120.30,347.57 L120.45,346.91 L120.50,347.27 L120.60,347.05 L120.75,346.92 L120.90,346.88 L121.05,346.80 L121.20,347.53 L121.90,347.48 L122.60,347.61 L123.30,346.75 L124.00,347.39 L124.70,347.02 L125.40,347.35 L126.10,347.25 L126.80,347.02 L127.50,347.67 L128.20,346.70 L128.90,347.45 L129.60,347.55 L130.30,347.20 L130.70,347.24 L130.85,347.61 L131.00,346.79 L131.15,347.09 L131.30,347.05 L131.45,346.43 L131.60,346.34 L131.70,345.60 L131.75,345.46 L131.90,344.40 L132.05,342.58 L132.20,339.11 L132.35,334.29 L132.40,331.84 L132.50,325.42 L132.65,334.27 L132.80,339.06 L132.95,342.81 L133.10,344.26 L133.25,345.66 L133.40,346.15 L133.55,346.53 L133.70,346.53 L133.80,346.56 L133.85,347.39 L134.00,347.08 L134.15,347.14 L134.50,347.20 L135.20,347.51 L135.90,346.94 L136.60,346.87 L137.30,347.52 L138.00,347.13 L138.20,347.29 L138.35,347.44 L138.50,347.45 L138.65,347.33 L138.70,346.46 L138.80,346.69 L138.95,346.88 L139.10,346.45 L139.25,345.06 L139.40,343.94 L139.55,342.15 L139.70,338.89 L139.85,334.02 L140.00,326.00 L140.10,331.82 L140.15,334.11 L140.30,338.88 L140.45,342.30 L140.60,344.79 L140.75,345.63 L140.80,345.66 L140.90,346.11 L141.05,346.85 L141.20,347.07 L141.35,346.61 L141.50,347.24 L141.65,346.98 L142.20,347.21 L142.90,346.94 L143.60,347.07 L144.30,347.04 L145.00,347.08 L145.70,346.72 L146.40,346.90 L147.10,347.27 L147.80,346.76 L148.50,346.88 L149.20,347.42 L149.90,346.97 L150.60,347.02 L151.30,346.94 L152.00,347.53 L152.70,346.79 L153.40,347.34 L154.10,347.56 L154.80,346.90 L155.50,347.12 L156.20,347.49 L156.90,347.32 L157.60,347.07 L158.30,346.74 L159.00,347.14 L159.70,347.07 L160.40,347.41 L161.10,347.00 L161.80,347.11 L162.50,347.35 L163.20,347.51 L163.90,347.05 L164.60,347.09 L165.30,347.28 L166.00,347.62 L166.70,346.89 L167.40,347.67 L168.10,347.41 L168.70,347.07 L168.80,347.36 L168.85,347.02 L169.00,346.76 L169.15,347.45 L169.30,347.07 L169.45,347.21 L169.50,347.18 L169.60,347.58 L169.75,347.44 L169.90,346.70 L170.05,347.26 L170.20,347.13 L170.35,347.12 L170.50,347.48 L170.65,347.05 L170.80,347.09 L170.90,347.50 L170.95,347.04 L171.10,347.07 L171.25,347.06 L171.40,347.34 L171.55,347.15 L171.60,347.20 L171.70,346.83 L171.85,346.41 L172.00,346.98 L172.15,346.76 L172.30,346.87 L172.45,346.73 L172.60,345.92 L172.75,345.82 L172.90,345.44 L173.00,345.99 L173.05,345.16 L173.20,344.79 L173.35,345.82 L173.50,345.92 L173.65,345.66 L173.70,346.35 L173.80,346.51 L173.95,346.45 L174.10,346.15 L174.25,346.90 L174.40,346.71 L174.55,346.95 L174.70,347.43 L174.85,347.30 L175.00,347.39 L175.10,346.69 L175.15,346.89 L175.30,347.10 L175.45,346.61 L175.60,347.61 L175.75,346.91 L175.80,346.90 L175.90,346.96 L176.05,346.91 L176.20,347.52 L176.35,347.23 L176.50,347.19 L176.65,347.10 L176.80,346.73 L176.95,346.99 L177.10,347.56 L177.20,347.49 L177.25,347.55 L177.40,346.95 L177.55,346.90 L177.90,346.75 L178.60,347.24 L179.30,347.07 L180.00,347.16 L180.70,347.19 L181.40,347.28 L182.10,347.07 L182.80,347.50 L183.50,346.90 L184.20,347.62 L184.90,347.26 L185.60,346.75 L186.30,347.01 L187.00,347.23 L187.70,347.11 L188.40,347.26 L189.10,347.02 L189.80,346.97 L190.50,347.49 L191.20,346.98 L191.45,347.40 L191.60,347.48 L191.75,347.27 L191.90,347.12 L192.05,347.59 L192.20,347.08 L192.35,347.50 L192.50,346.65 L192.60,347.01 L192.65,347.20 L192.80,346.56 L192.95,347.31 L193.10,346.44 L193.25,346.85 L193.30,346.39 L193.40,347.03 L193.55,346.48 L193.70,346.46 L193.85,345.81 L194.00,345.52 L194.15,344.91 L194.30,343.72 L194.45,342.55 L194.60,341.74 L194.70,342.05 L194.75,343.26 L194.90,343.63 L195.05,344.34 L195.20,344.95 L195.35,346.09 L195.40,346.39 L195.50,346.07 L195.65,346.57 L195.80,346.37 L195.95,347.16 L196.10,347.05 L196.25,346.60 L196.40,346.57 L196.55,347.25 L196.70,346.64 L196.80,347.45 L196.85,346.91 L197.00,346.87 L197.15,347.24 L197.30,346.98 L197.45,347.24 L197.50,346.83 L197.60,347.59 L198.20,347.02 L198.90,347.54 L199.60,346.85 L200.30,347.50 L201.00,347.68 L201.70,347.09 L202.40,346.73 L203.10,347.08 L203.80,347.34 L204.50,346.92 L205.20,347.25 L205.90,346.79 L206.60,347.16 L207.30,347.43 L208.00,347.13 L208.70,347.38 L209.40,346.81 L210.10,347.53 L210.80,346.82 L211.50,347.62 L212.20,347.70 L212.90,347.64 L213.60,347.23 L214.30,346.99 L215.00,347.05 L215.70,347.45 L216.40,347.20 L217.10,347.63 L217.80,346.79 L218.50,347.18 L219.20,347.56 L219.90,347.30 L220.60,347.24 L221.30,346.79 L222.00,346.84 L222.70,346.97 L223.40,347.59 L224.10,347.55 L224.80,346.93 L225.50,347.62 L226.20,346.73 L226.90,347.30 L227.60,347.67 L228.30,347.04 L229.00,347.64 L229.70,347.36 L230.40,346.75 L231.10,347.03 L231.80,347.15 L232.50,346.94 L232.80,347.44 L232.95,346.87 L233.10,347.48 L233.20,346.99 L233.25,346.76 L233.40,347.25 L233.55,346.78 L233.70,347.23 L233.85,347.46 L233.90,347.26 L234.00,347.12 L234.15,346.69 L234.30,347.15 L234.45,346.72 L234.60,347.25 L234.75,346.70 L234.90,347.11 L235.05,346.84 L235.20,346.80 L235.30,347.04 L235.35,346.52 L235.50,346.42 L235.65,347.07 L235.80,346.30 L235.95,346.60 L236.00,346.55 L236.10,345.97 L236.25,345.29 L236.40,344.79 L236.55,346.02 L236.70,345.60 L236.85,346.25 L237.00,346.50 L237.15,346.24 L237.30,346.72 L237.40,346.49 L237.45,346.89 L237.60,346.94 L237.75,346.86 L237.90,346.73 L238.05,346.98 L238.10,346.79 L238.20,346.73 L238.35,346.86 L238.50,347.51 L238.65,347.15 L238.80,347.55 L238.95,346.69 L239.10,347.62 L239.25,347.17 L239.40,347.48 L239.50,347.26 L239.55,347.38 L239.70,346.92 L239.85,347.44 L240.20,346.85 L240.90,346.96 L241.60,346.73 L242.30,347.09 L243.00,347.22 L243.70,346.99 L244.40,347.59 L245.10,346.78 L245.80,347.28 L246.50,346.93 L247.20,347.30 L247.90,347.48 L248.60,347.41 L249.30,346.76 L250.00,346.95 L250.70,347.30 L251.40,347.68 L252.10,346.74 L252.80,347.32 L253.50,347.39 L254.20,347.51 L254.90,347.04 L255.60,347.51 L256.30,347.16 L257.00,347.62 L257.70,346.71 L258.40,347.64 L259.10,347.11 L259.80,347.11 L260.50,346.79 L261.20,346.94 L261.90,347.43 L262.60,347.38 L263.30,346.85 L264.00,347.04 L264.70,346.84 L265.40,346.89 L265.80,346.90 L265.95,347.01 L266.10,347.65 L266.25,347.66 L266.40,347.44 L266.55,347.11 L266.70,347.11 L266.80,347.38 L266.85,347.50 L267.00,347.31 L267.15,347.16 L267.30,346.67 L267.45,347.03 L267.50,347.23 L267.60,347.11 L267.75,346.31 L267.90,346.80 L268.05,346.26 L268.20,345.85 L268.35,346.36 L268.50,345.70 L268.65,345.30 L268.80,344.08 L268.90,344.27 L268.95,344.09 L269.10,343.06 L269.25,341.60 L269.40,340.03 L269.55,341.66 L269.60,341.92 L269.70,342.59 L269.85,343.98 L270.00,344.73 L270.15,345.42 L270.30,345.33 L270.45,346.36 L270.60,346.22 L270.75,346.86 L270.90,346.20 L271.00,347.15 L271.05,347.01 L271.20,346.58 L271.35,347.25 L271.50,346.71 L271.65,346.72 L271.70,347.00 L271.80,346.80 L271.95,347.09 L272.10,347.52 L272.25,347.32 L272.40,347.36 L272.55,347.05 L272.70,347.45 L272.85,347.47 L273.00,347.36 L273.10,347.63 L273.80,347.52 L274.50,347.10 L275.20,346.79 L275.90,347.35 L276.60,347.54 L277.30,347.04 L278.00,347.29 L278.70,347.54 L279.40,347.49 L280.10,346.70 L280.80,347.19 L281.50,346.72 L282.20,346.81 L282.90,347.51 L283.60,347.12 L284.30,347.30 L285.00,347.16 L285.70,347.04 L286.40,346.91 L287.10,347.05 L287.80,347.54 L288.50,347.32 L289.20,346.99 L289.70,346.78 L289.85,346.96 L289.90,347.39 L290.00,347.13 L290.15,347.34 L290.30,347.49 L290.45,346.79 L290.60,347.35 L290.75,346.70 L290.90,347.46 L291.05,346.81 L291.20,346.87 L291.30,347.54 L291.35,346.94 L291.50,346.76 L291.65,347.39 L291.80,347.05 L291.95,347.26 L292.00,346.73 L292.10,346.77 L292.25,347.10 L292.40,346.49 L292.55,346.77 L292.70,345.71 L292.85,346.02 L293.00,344.92 L293.15,344.73 L293.30,343.50 L293.40,344.17 L293.45,345.15 L293.60,345.21 L293.75,346.00 L293.90,345.77 L294.05,346.13 L294.10,345.96 L294.20,346.54 L294.35,347.00 L294.40,346.70 L294.50,346.64 L294.55,347.23 L294.65,347.25 L294.70,347.05 L294.80,346.51 L294.85,347.07 L294.95,346.93 L295.00,347.46 L295.10,346.89 L295.15,347.20 L295.25,347.19 L295.30,346.95 L295.40,347.11 L295.45,347.27 L295.50,347.50 L295.55,347.10 L295.60,346.97 L295.70,347.59 L295.75,346.67 L295.85,347.45 L295.90,347.30 L296.00,347.17 L296.05,347.06 L296.15,347.35 L296.20,347.49 L296.30,347.32 L296.35,347.33 L296.45,346.61 L296.50,346.89 L296.60,346.68 L296.65,347.48 L296.75,347.39 L296.80,346.63 L296.90,347.04 L296.95,347.01 L297.10,346.41 L297.25,346.66 L297.40,346.89 L297.55,346.63 L297.60,346.21 L297.70,346.55 L297.85,345.82 L298.00,345.74 L298.15,345.95 L298.30,346.77 L298.45,346.64 L298.60,346.95 L298.75,346.95 L298.90,346.75 L299.00,347.38 L299.05,347.15 L299.20,347.19 L299.35,346.82 L299.50,346.74 L299.65,347.18 L299.70,347.44 L299.80,347.42 L299.95,346.99 L300.10,346.79 L300.25,347.18 L300.40,347.55 L300.55,346.84 L300.70,347.42 L300.85,346.86 L301.00,347.00 L301.10,346.74 L301.15,346.99 L301.30,347.08 L301.45,347.66 L301.60,347.66 L301.80,346.88 L302.50,347.01 L303.20,347.64 L303.90,346.90 L304.60,347.02 L305.30,347.14" fill="none" stroke="#8a18f0" stroke-width="1.4" stroke-linejoin="round"/>
<path d="M54.00,370.11 L54.70,370.26 L55.40,370.39 L56.10,370.39 L56.80,370.96 L57.50,370.27 L58.20,370.20 L58.90,370.91 L59.60,370.45 L60.30,370.84 L61.00,370.64 L61.70,370.78 L62.40,370.31 L63.10,370.15 L63.80,370.76 L64.50,370.47 L65.20,370.56 L65.90,370.67 L66.60,370.75 L67.30,370.27 L68.00,370.35 L68.70,370.90 L69.40,370.49 L69.45,370.25 L69.60,370.58 L69.75,370.20 L69.90,370.71 L70.05,369.97 L70.10,370.75 L70.20,370.48 L70.35,370.25 L70.50,370.82 L70.65,370.13 L70.80,370.08 L70.95,369.88 L71.10,370.33 L71.25,370.49 L71.40,370.38 L71.50,370.08 L71.55,370.46 L71.70,369.70 L71.85,369.83 L72.00,370.09 L72.15,370.32 L72.20,369.95 L72.30,369.93 L72.45,369.89 L72.60,369.36 L72.75,369.73 L72.90,369.33 L73.05,368.70 L73.20,368.48 L73.35,368.57 L73.50,367.75 L73.60,367.30 L73.65,367.83 L73.80,366.99 L73.95,366.39 L74.10,365.85 L74.25,365.28 L74.30,364.22 L74.40,363.78 L74.55,362.42 L74.70,361.50 L74.85,360.10 L75.00,358.72 L75.15,356.52 L75.30,354.08 L75.45,356.26 L75.60,358.44 L75.70,359.33 L75.75,360.44 L75.90,361.87 L76.05,363.19 L76.20,363.60 L76.35,365.05 L76.40,365.41 L76.50,365.68 L76.65,366.77 L76.80,367.36 L76.95,367.71 L77.10,368.22 L77.25,368.42 L77.40,368.96 L77.55,368.49 L77.70,369.30 L77.80,369.43 L77.85,369.41 L78.00,369.24 L78.15,369.18 L78.30,369.84 L78.45,370.17 L78.50,369.65 L78.60,369.65 L78.75,369.74 L78.90,369.68 L79.05,370.32 L79.20,370.67 L79.35,370.54 L79.50,370.14 L79.65,370.51 L79.80,369.91 L79.90,370.69 L79.95,370.19 L80.10,369.88 L80.25,370.53 L80.40,370.05 L80.55,370.20 L80.60,369.99 L80.70,370.38 L80.85,370.50 L81.00,370.76 L81.30,370.00 L82.00,370.81 L82.70,370.10 L83.40,370.22 L84.10,370.63 L84.80,370.34 L85.50,370.33 L86.20,370.57 L86.90,370.22 L87.60,370.79 L88.30,370.21 L89.00,370.84 L89.70,370.81 L90.40,370.54 L91.10,370.03 L91.80,370.78 L92.50,370.03 L93.20,370.50 L93.90,370.42 L94.60,370.06 L95.30,370.63 L96.00,370.72 L96.70,370.58 L97.40,370.40 L98.10,370.51 L98.80,370.59 L99.50,370.23 L100.20,370.87 L100.90,371.00 L101.60,370.80 L102.30,370.96 L103.00,370.33 L103.70,370.99 L104.40,370.07 L105.10,370.48 L105.80,370.13 L106.50,370.45 L107.20,370.68 L107.90,370.71 L108.60,370.45 L109.30,370.34 L110.00,370.19 L110.70,370.40 L111.40,370.28 L112.00,370.19 L112.10,370.73 L112.15,370.51 L112.30,370.43 L112.45,370.19 L112.60,370.69 L112.75,370.18 L112.80,370.25 L112.90,370.54 L113.05,370.68 L113.20,370.95 L113.35,370.72 L113.50,370.91 L113.65,370.88 L113.80,370.67 L113.95,370.65 L114.10,369.98 L114.20,370.11 L114.25,369.91 L114.40,370.74 L114.55,370.57 L114.70,370.45 L114.85,370.04 L114.90,370.12 L115.00,369.89 L115.15,370.30 L115.30,370.59 L115.45,369.81 L115.60,369.44 L115.75,369.44 L115.90,369.46 L116.05,369.80 L116.20,369.46 L116.30,368.92 L116.35,368.46 L116.50,368.11 L116.65,368.52 L116.80,369.44 L116.95,369.37 L117.00,369.96 L117.10,370.01 L117.25,370.06 L117.40,369.87 L117.55,370.33 L117.70,369.72 L117.85,369.78 L118.00,370.29 L118.15,370.29 L118.30,370.03 L118.40,370.09 L118.45,369.87 L118.60,370.79 L118.75,370.61 L118.90,370.86 L119.05,370.91 L119.10,370.37 L119.20,370.68 L119.35,370.34 L119.50,370.77 L119.65,370.81 L119.80,370.11 L119.95,369.99 L120.10,370.20 L120.25,370.57 L120.40,370.37 L120.50,370.00 L120.55,370.82 L120.70,370.78 L120.85,370.45 L121.20,370.03 L121.90,370.88 L122.60,370.51 L123.30,370.04 L123.75,370.27 L123.90,370.56 L124.00,370.82 L124.05,370.42 L124.20,370.56 L124.35,370.12 L124.50,370.14 L124.65,370.79 L124.70,370.26 L124.80,369.97 L124.95,370.44 L125.10,369.95 L125.25,370.00 L125.40,370.23 L125.55,370.33 L125.70,370.34 L125.85,370.37 L126.00,370.05 L126.10,369.65 L126.15,370.28 L126.30,369.55 L126.45,369.90 L126.60,369.74 L126.75,369.92 L126.80,369.93 L126.90,369.38 L127.05,369.67 L127.20,369.57 L127.35,369.19 L127.50,368.68 L127.65,369.24 L127.80,368.69 L127.95,367.88 L128.10,367.75 L128.20,368.27 L128.25,367.39 L128.40,367.14 L128.55,367.08 L128.70,366.58 L128.85,365.79 L128.90,365.67 L129.00,364.50 L129.15,363.77 L129.30,363.75 L129.45,362.54 L129.60,360.60 L129.75,359.26 L129.90,357.91 L130.05,356.85 L130.20,354.13 L130.30,353.08 L130.35,352.54 L130.50,349.63 L130.65,352.53 L130.80,354.16 L130.95,356.06 L131.00,356.54 L131.10,358.42 L131.25,359.30 L131.40,361.51 L131.55,362.42 L131.70,362.92 L131.85,364.44 L132.00,364.58 L132.15,365.61 L132.30,365.80 L132.40,366.84 L132.45,367.11 L132.60,367.59 L132.75,367.06 L132.90,368.25 L133.05,368.25 L133.10,368.60 L133.20,368.45 L133.35,368.78 L133.50,368.94 L133.65,369.30 L133.80,368.70 L133.95,368.77 L134.10,369.34 L134.25,369.14 L134.40,369.28 L134.50,368.90 L134.55,369.64 L134.70,368.91 L134.85,369.68 L135.00,369.61 L135.15,369.18 L135.20,368.81 L135.30,369.26 L135.45,368.69 L135.60,368.75 L135.75,368.24 L135.90,368.87 L136.05,368.17 L136.20,367.65 L136.35,367.01 L136.50,367.21 L136.60,366.99 L136.65,366.81 L136.80,365.47 L136.95,365.05 L137.10,364.18 L137.25,363.72 L137.30,362.77 L137.40,362.50 L137.55,361.64 L137.70,360.00 L137.85,357.60 L138.00,355.77 L138.15,353.62 L138.30,351.67 L138.45,354.11 L138.60,356.23 L138.70,357.46 L138.75,358.02 L138.90,359.87 L139.05,361.34 L139.20,362.84 L139.35,363.73 L139.40,364.12 L139.50,364.85 L139.65,365.58 L139.80,366.16 L139.95,366.08 L140.10,367.25 L140.25,367.88 L140.40,367.86 L140.55,368.65 L140.70,368.25 L140.80,369.18 L140.85,368.76 L141.00,369.25 L141.15,368.99 L141.30,369.21 L141.45,369.40 L141.50,369.42 L141.60,369.27 L141.75,369.73 L141.90,370.36 L142.05,370.12 L142.20,370.47 L142.35,370.36 L142.50,370.49 L142.65,370.69 L142.80,370.49 L142.90,370.04 L142.95,370.02 L143.10,370.22 L143.25,369.85 L143.40,370.08 L143.55,370.76 L143.60,370.80 L143.70,370.22 L143.85,370.67 L144.00,370.69 L144.15,370.82 L144.30,370.73 L144.45,370.48 L145.00,370.07 L145.70,370.81 L146.40,370.31 L147.10,370.62 L147.80,370.36 L148.50,370.54 L149.20,370.97 L149.90,370.16 L150.60,370.53 L151.30,370.65 L152.00,370.54 L152.70,370.94 L153.40,370.41 L154.10,370.91 L154.80,370.69 L155.50,370.97 L156.20,370.09 L156.90,370.21 L157.60,370.29 L158.30,370.91 L159.00,370.01 L159.70,370.26 L160.40,370.72 L161.10,370.99 L161.80,370.18 L162.50,370.44 L163.20,370.69 L163.90,370.69 L164.60,370.74 L165.30,370.75 L166.00,370.24 L166.35,370.24 L166.50,370.01 L166.65,370.67 L166.70,370.18 L166.80,370.23 L166.95,370.93 L167.10,370.60 L167.25,370.54 L167.40,370.60 L167.55,370.53 L167.70,370.62 L167.85,370.22 L168.00,369.96 L168.10,369.95 L168.15,369.90 L168.30,370.22 L168.45,369.98 L168.60,369.92 L168.75,370.27 L168.80,370.74 L168.90,370.43 L169.05,369.97 L169.20,370.42 L169.35,369.77 L169.50,369.62 L169.65,369.75 L169.80,369.76 L169.95,369.93 L170.10,369.56 L170.20,369.75 L170.25,369.07 L170.40,369.73 L170.55,368.94 L170.70,369.20 L170.85,368.13 L170.90,368.83 L171.00,368.01 L171.15,368.27 L171.30,367.78 L171.45,367.15 L171.60,366.17 L171.75,365.22 L171.90,364.60 L172.05,364.39 L172.20,362.56 L172.30,363.80 L172.35,364.07 L172.50,365.07 L172.65,365.39 L172.80,366.04 L172.95,366.58 L173.00,367.64 L173.10,367.36 L173.25,368.06 L173.40,368.35 L173.55,368.32 L173.70,368.43 L173.85,368.62 L174.00,369.65 L174.15,369.10 L174.30,370.08 L174.40,369.57 L174.45,369.97 L174.60,369.49 L174.75,370.23 L174.90,369.78 L175.05,369.96 L175.10,370.13 L175.20,369.76 L175.35,369.95 L175.50,370.54 L175.65,370.06 L175.80,370.19 L175.95,370.60 L176.10,370.08 L176.25,370.07 L176.40,370.12 L176.50,370.29 L176.55,370.28 L176.70,370.57 L176.85,370.41 L177.00,370.81 L177.15,370.00 L177.20,370.62 L177.30,370.80 L177.45,370.20 L177.60,370.00 L177.75,370.41 L177.90,370.09 L178.60,370.45 L179.30,370.71 L180.00,370.09 L180.70,370.12 L181.40,370.48 L182.10,370.17 L182.80,370.23 L183.50,370.44 L184.20,370.12 L184.90,370.07 L185.60,370.36 L186.30,370.47 L187.00,370.93 L187.70,370.55 L188.20,370.06 L188.35,370.21 L188.40,370.73 L188.50,370.54 L188.65,370.85 L188.80,370.93 L188.95,370.82 L189.10,370.07 L189.25,370.89 L189.40,370.46 L189.55,370.16 L189.70,370.08 L189.80,370.76 L189.85,370.10 L190.00,369.95 L190.15,370.10 L190.30,370.72 L190.45,370.21 L190.50,370.47 L190.60,369.77 L190.75,370.08 L190.90,369.86 L191.05,369.65 L191.20,369.99 L191.35,369.53 L191.50,369.11 L191.65,369.75 L191.80,368.97 L191.90,368.46 L191.95,368.17 L192.10,368.40 L192.25,367.77 L192.40,366.67 L192.55,366.37 L192.60,366.36 L192.70,365.53 L192.85,366.14 L193.00,367.14 L193.15,367.85 L193.30,368.40 L193.40,368.17 L193.45,368.95 L193.55,369.32 L193.60,369.22 L193.70,369.53 L193.75,369.12 L193.85,369.81 L193.90,369.15 L194.00,369.32 L194.05,369.75 L194.15,370.15 L194.20,369.38 L194.30,369.59 L194.35,369.45 L194.45,369.92 L194.50,369.65 L194.60,369.75 L194.65,370.33 L194.70,370.18 L194.75,370.56 L194.80,370.04 L194.90,370.34 L194.95,369.69 L195.05,370.65 L195.10,369.94 L195.20,370.19 L195.25,370.23 L195.35,370.68 L195.40,370.22 L195.50,370.72 L195.55,370.34 L195.65,369.93 L195.70,370.54 L195.80,369.89 L195.85,370.68 L195.95,370.11 L196.00,369.86 L196.10,370.56 L196.15,369.90 L196.25,369.94 L196.30,369.85 L196.40,370.12 L196.45,369.44 L196.55,369.71 L196.60,369.46 L196.70,370.03 L196.75,369.15 L196.80,369.71 L196.85,369.30 L196.90,369.43 L197.00,369.40 L197.05,369.47 L197.15,368.72 L197.30,368.52 L197.45,368.02 L197.50,368.72 L197.60,367.59 L197.65,367.40 L197.75,367.39 L197.80,367.24 L197.90,367.07 L197.95,366.48 L198.05,367.10 L198.10,367.24 L198.20,368.02 L198.25,368.05 L198.35,368.30 L198.40,368.91 L198.50,368.92 L198.55,369.23 L198.65,369.52 L198.70,368.92 L198.80,369.75 L198.85,369.29 L198.90,369.00 L198.95,369.93 L199.00,369.17 L199.10,369.19 L199.15,369.50 L199.25,369.58 L199.30,370.30 L199.40,370.26 L199.45,369.84 L199.55,369.99 L199.60,370.33 L199.70,370.32 L199.75,370.18 L199.85,370.06 L199.90,369.67 L200.00,369.80 L200.05,370.22 L200.15,370.14 L200.20,370.35 L200.30,370.43 L200.35,370.48 L200.45,369.69 L200.50,369.55 L200.60,370.33 L200.65,369.98 L200.75,369.53 L200.80,370.01 L200.90,369.49 L200.95,369.43 L201.00,369.51 L201.05,369.62 L201.10,369.72 L201.20,368.99 L201.25,369.59 L201.35,369.32 L201.40,369.09 L201.50,369.10 L201.55,369.12 L201.65,368.10 L201.70,368.44 L201.80,368.36 L201.85,368.23 L201.95,367.82 L202.00,367.16 L202.10,368.32 L202.15,368.32 L202.25,368.07 L202.30,368.41 L202.40,369.19 L202.45,368.55 L202.60,369.05 L202.75,369.85 L202.90,369.99 L203.05,369.49 L203.10,370.04 L203.20,369.75 L203.35,370.16 L203.50,370.36 L203.65,369.79 L203.80,369.95 L203.95,369.99 L204.10,370.08 L204.25,369.89 L204.40,370.01 L204.50,370.30 L204.55,370.32 L204.70,370.00 L204.85,370.51 L205.00,370.89 L205.15,370.53 L205.20,370.31 L205.30,370.67 L205.45,370.41 L205.60,370.15 L205.75,370.46 L205.90,370.00 L206.05,370.66 L206.20,370.15 L206.35,370.36 L206.60,370.96 L207.30,370.76 L208.00,370.83 L208.70,370.64 L209.40,370.63 L210.10,370.70 L210.80,370.97 L211.50,370.20 L212.20,370.77 L212.90,370.30 L213.60,370.26 L214.30,370.82 L215.00,370.60 L215.70,370.85 L216.40,370.88 L217.10,370.59 L217.80,370.20 L218.50,370.02 L219.20,370.53 L219.90,370.73 L220.60,370.27 L221.30,370.07 L222.00,370.00 L222.70,370.17 L223.40,370.70 L224.10,370.00 L224.80,370.23 L225.50,370.26 L226.20,370.71 L226.90,370.99 L227.60,370.02 L228.30,370.11 L229.00,370.92 L229.25,370.95 L229.40,370.13 L229.55,370.31 L229.70,370.49 L229.85,370.29 L230.00,370.38 L230.15,370.43 L230.30,370.20 L230.40,369.99 L230.45,370.02 L230.60,370.09 L230.75,370.00 L230.90,370.52 L231.05,370.58 L231.10,370.14 L231.20,370.65 L231.35,370.57 L231.50,370.15 L231.65,370.27 L231.80,369.93 L231.95,370.63 L232.10,370.21 L232.25,369.64 L232.40,369.68 L232.50,370.16 L232.55,369.83 L232.70,370.07 L232.85,369.47 L233.00,369.92 L233.15,369.77 L233.20,369.01 L233.30,369.39 L233.45,368.79 L233.60,369.08 L233.75,368.90 L233.90,368.57 L234.05,367.64 L234.20,367.07 L234.35,367.14 L234.50,366.46 L234.60,365.59 L234.65,365.40 L234.80,365.00 L234.95,363.59 L235.10,363.03 L235.25,363.72 L235.30,364.07 L235.40,364.84 L235.55,365.74 L235.70,366.62 L235.85,366.51 L236.00,367.70 L236.15,367.63 L236.30,368.07 L236.45,368.74 L236.60,369.06 L236.70,369.14 L236.75,369.50 L236.90,369.01 L237.05,369.28 L237.20,369.78 L237.35,369.50 L237.40,369.44 L237.50,369.58 L237.65,370.22 L237.80,370.35 L237.95,370.31 L238.10,370.61 L238.25,370.49 L238.40,370.05 L238.55,370.09 L238.70,370.53 L238.80,369.88 L238.85,370.45 L239.00,369.95 L239.15,369.93 L239.30,370.41 L239.45,370.06 L239.50,370.85 L239.60,370.80 L239.75,370.40 L239.90,370.14 L240.05,370.07 L240.20,370.47 L240.35,370.49 L240.50,370.33 L240.65,370.69 L240.80,370.51 L240.90,370.76 L241.60,370.10 L242.30,370.07 L243.00,370.38 L243.70,370.48 L244.40,370.25 L245.10,370.67 L245.80,370.22 L246.50,370.32 L247.20,370.48 L247.90,370.71 L248.60,370.77 L249.30,370.37 L250.00,370.45 L250.70,370.93 L251.40,370.93 L252.10,370.62 L252.80,370.10 L253.50,370.46 L254.20,370.64 L254.90,370.28 L255.60,370.03 L255.90,370.98 L256.05,370.91 L256.20,370.12 L256.30,370.46 L256.35,370.61 L256.50,370.29 L256.65,370.06 L256.80,370.74 L256.95,370.76 L257.00,370.42 L257.10,370.07 L257.25,370.38 L257.40,370.07 L257.55,370.94 L257.70,370.02 L257.85,370.26 L258.00,370.73 L258.15,370.09 L258.30,370.05 L258.40,370.01 L258.45,370.10 L258.60,370.46 L258.75,370.74 L258.90,370.06 L259.05,370.05 L259.10,370.63 L259.20,370.28 L259.35,370.17 L259.50,369.92 L259.65,370.00 L259.80,370.69 L259.95,369.78 L260.10,369.86 L260.25,370.27 L260.40,370.34 L260.50,370.29 L260.55,369.82 L260.70,370.18 L260.85,369.69 L261.00,369.21 L261.15,369.19 L261.20,369.37 L261.30,369.23 L261.45,368.85 L261.60,369.11 L261.75,370.04 L261.90,369.33 L262.05,370.15 L262.20,369.77 L262.35,369.76 L262.50,369.84 L262.60,370.09 L262.65,370.63 L262.80,369.83 L262.95,370.58 L263.10,370.07 L263.25,369.95 L263.30,370.53 L263.40,370.13 L263.55,369.99 L263.70,370.23 L263.85,370.63 L264.00,370.67 L264.15,370.37 L264.30,369.79 L264.45,370.52 L264.60,370.33 L264.70,370.60 L264.75,370.64 L264.90,369.97 L265.05,370.43 L265.20,370.34 L265.35,369.70 L265.40,369.77 L265.50,369.71 L265.65,369.58 L265.80,369.46 L265.95,369.03 L266.10,368.96 L266.25,369.41 L266.40,368.65 L266.55,368.55 L266.70,368.43 L266.80,368.01 L266.85,367.34 L267.00,367.49 L267.15,366.75 L267.30,366.21 L267.45,365.08 L267.50,364.78 L267.60,364.14 L267.75,362.37 L267.90,361.34 L268.05,359.38 L268.20,357.84 L268.35,359.13 L268.50,361.22 L268.65,362.45 L268.80,364.15 L268.90,364.37 L268.95,365.19 L269.10,366.07 L269.25,366.83 L269.40,366.71 L269.55,368.04 L269.60,368.00 L269.70,368.22 L269.85,368.57 L270.00,368.29 L270.15,369.38 L270.30,369.29 L270.45,369.39 L270.60,369.44 L270.75,370.02 L270.90,370.13 L271.00,370.29 L271.05,369.67 L271.20,369.88 L271.35,369.86 L271.50,369.77 L271.65,370.05 L271.70,369.76 L271.80,370.56 L271.95,370.03 L272.10,369.90 L272.25,369.92 L272.40,370.62 L272.55,370.09 L272.70,370.37 L272.85,370.33 L273.00,370.74 L273.10,370.90 L273.15,370.26 L273.30,370.59 L273.45,370.86 L273.60,370.44 L273.80,370.87 L274.50,370.72 L275.20,370.31 L275.90,370.87 L276.60,370.57 L277.30,370.11 L278.00,370.59 L278.70,370.83 L279.40,370.52 L280.10,370.48 L280.80,370.42 L281.50,370.88 L282.20,370.67 L282.90,370.21 L283.60,370.36 L284.30,370.36 L285.00,370.96 L285.70,370.69 L286.40,370.12 L287.10,370.90 L287.30,370.02 L287.45,370.57 L287.60,370.40 L287.75,370.68 L287.80,370.39 L287.90,370.05 L288.05,370.47 L288.20,370.76 L288.35,370.71 L288.50,370.26 L288.65,370.11 L288.80,370.61 L288.95,370.63 L289.10,370.01 L289.20,370.65 L289.25,370.74 L289.40,370.13 L289.55,370.01 L289.70,370.25 L289.85,370.37 L289.90,369.61 L290.00,369.62 L290.15,369.50 L290.30,369.72 L290.45,368.95 L290.60,369.03 L290.75,368.65 L290.90,368.41 L291.05,367.38 L291.20,367.59 L291.30,367.15 L291.35,366.44 L291.50,365.77 L291.65,364.04 L291.80,363.41 L291.95,364.41 L292.00,365.01 L292.10,365.84 L292.25,366.24 L292.40,367.55 L292.55,367.44 L292.70,367.75 L292.85,368.64 L293.00,369.37 L293.15,369.64 L293.30,369.92 L293.40,369.59 L293.45,370.07 L293.60,369.84 L293.75,369.54 L293.90,370.12 L294.05,370.36 L294.10,370.00 L294.20,370.21 L294.35,369.91 L294.50,369.95 L294.65,370.10 L294.80,370.19 L294.95,370.13 L295.10,369.73 L295.25,369.60 L295.40,369.87 L295.50,370.20 L295.55,370.20 L295.70,369.59 L295.85,369.49 L296.00,369.59 L296.15,369.06 L296.20,369.41 L296.30,369.54 L296.45,368.55 L296.60,368.57 L296.75,369.07 L296.90,369.40 L297.05,369.61 L297.20,369.81 L297.35,369.53 L297.50,370.23 L297.60,370.39 L297.65,369.56 L297.80,370.54 L297.95,370.11 L298.10,369.81 L298.25,369.85 L298.30,370.59 L298.40,370.50 L298.55,369.99 L298.70,370.34 L298.85,370.54 L299.00,370.92 L299.15,370.27 L299.30,370.71 L299.45,370.20 L299.60,370.16 L299.70,370.13 L299.75,370.38 L299.90,370.59 L300.05,370.28 L300.20,370.15 L300.35,370.20 L300.40,370.07 L300.50,370.18 L300.65,370.31 L300.80,370.50 L300.95,370.18 L301.10,370.47 L301.80,370.44 L302.50,370.97 L303.20,370.49 L303.90,370.94 L304.60,370.47 L305.30,370.20" fill="none" stroke="#1a10c0" stroke-width="1.4" stroke-linejoin="round"/>
<path d="M54.00,394.49 L54.70,394.04 L55.40,394.07 L56.10,393.97 L56.80,394.60 L57.50,394.87 L58.20,394.30 L58.90,394.25 L59.60,394.33 L60.30,394.25 L61.00,394.59 L61.70,394.29 L62.40,394.05 L63.10,394.76 L63.80,394.47 L64.50,393.91 L65.20,394.75 L65.90,394.63 L66.60,394.25 L67.30,394.53 L68.00,394.82 L68.70,394.30 L69.40,394.33 L70.10,394.20 L70.80,394.45 L71.50,394.56 L72.20,394.62 L72.45,394.82 L72.60,394.01 L72.75,394.21 L72.90,394.68 L73.05,394.60 L73.20,394.37 L73.35,394.41 L73.50,394.02 L73.60,394.58 L73.65,394.16 L73.80,393.91 L73.95,393.56 L74.10,393.33 L74.25,393.88 L74.30,393.69 L74.40,392.71 L74.55,392.60 L74.70,392.22 L74.85,391.52 L75.00,390.44 L75.15,389.70 L75.30,387.47 L75.45,385.41 L75.60,382.83 L75.70,384.62 L75.75,385.36 L75.90,387.46 L76.05,389.19 L76.20,390.68 L76.35,391.81 L76.40,391.55 L76.50,392.11 L76.65,392.66 L76.80,393.04 L76.95,393.90 L77.10,393.75 L77.25,393.66 L77.40,393.84 L77.55,394.43 L77.70,393.84 L77.80,394.41 L77.85,393.76 L78.00,393.97 L78.15,393.87 L78.30,394.64 L78.45,393.99 L78.50,394.08 L78.60,393.92 L79.20,394.15 L79.90,394.63 L80.60,394.62 L81.30,394.81 L82.00,394.85 L82.70,394.45 L83.40,394.82 L84.10,393.99 L84.80,394.83 L85.50,394.33 L86.20,394.09 L86.90,394.65 L87.60,394.76 L88.30,394.29 L89.00,393.99 L89.70,394.77 L90.40,394.65 L91.10,394.50 L91.80,394.88 L92.50,393.94 L93.20,393.96 L93.90,394.02 L94.60,393.92 L95.30,394.61 L96.00,394.53 L96.70,394.01 L97.40,394.06 L98.10,394.08 L98.80,394.51 L99.50,394.57 L100.20,394.87 L100.90,394.26 L101.60,394.88 L102.30,394.33 L103.00,394.29 L103.70,394.15 L104.40,394.13 L105.10,394.87 L105.80,394.89 L106.50,394.61 L107.20,394.08 L107.90,394.08 L108.60,394.05 L109.30,394.25 L110.00,394.64 L110.70,393.96 L111.40,394.43 L112.10,394.58 L112.80,393.93 L113.50,394.34 L114.10,394.69 L114.20,394.47 L114.25,394.35 L114.40,394.78 L114.55,394.49 L114.70,394.23 L114.85,394.28 L114.90,394.83 L115.00,394.74 L115.15,394.79 L115.30,394.43 L115.45,394.01 L115.60,394.03 L115.75,394.23 L115.90,394.52 L116.05,393.81 L116.20,394.58 L116.30,394.54 L116.35,394.26 L116.50,393.70 L116.65,394.44 L116.80,393.98 L116.95,394.14 L117.00,394.00 L117.10,394.08 L117.25,393.60 L117.40,393.95 L117.55,393.69 L117.70,393.33 L117.85,393.35 L118.00,393.31 L118.15,393.57 L118.30,393.62 L118.40,394.34 L118.45,394.26 L118.60,394.35 L118.75,394.46 L118.90,394.69 L119.05,394.43 L119.10,394.07 L119.20,394.53 L119.35,394.07 L119.50,394.44 L119.65,394.00 L119.80,394.71 L119.95,394.35 L120.10,394.15 L120.25,394.80 L120.40,393.97 L120.50,394.82 L120.55,394.64 L120.70,394.04 L120.85,394.65 L121.00,394.47 L121.15,394.80 L121.20,394.48 L121.90,394.33 L122.60,394.83 L123.30,393.99 L124.00,394.68 L124.70,394.00 L125.40,394.18 L126.10,394.01 L126.40,394.77 L126.55,394.34 L126.70,394.62 L126.80,394.15 L126.85,394.62 L127.00,394.54 L127.15,393.98 L127.30,394.37 L127.45,394.59 L127.50,394.08 L127.60,394.52 L127.75,394.13 L127.90,394.21 L128.05,394.74 L128.20,394.74 L128.35,394.77 L128.50,394.16 L128.65,394.26 L128.80,394.44 L128.90,394.34 L128.95,394.01 L129.10,394.31 L129.25,393.72 L129.40,394.10 L129.55,393.40 L129.60,392.96 L129.70,393.40 L129.80,392.56 L129.85,392.96 L129.95,392.02 L130.00,392.78 L130.10,392.60 L130.15,392.90 L130.25,392.46 L130.30,393.03 L130.40,392.84 L130.45,392.72 L130.55,393.23 L130.60,392.39 L130.70,392.63 L130.75,392.08 L130.85,392.41 L130.90,392.16 L131.00,390.50 L131.05,390.40 L131.15,389.03 L131.20,388.39 L131.30,386.09 L131.35,384.21 L131.45,380.95 L131.50,377.73 L131.60,371.30 L131.65,375.46 L131.70,377.71 L131.75,380.27 L131.80,382.70 L131.90,385.84 L131.95,386.95 L132.05,389.72 L132.10,390.04 L132.20,391.58 L132.25,391.51 L132.35,392.92 L132.40,392.51 L132.50,393.65 L132.55,393.53 L132.65,394.16 L132.70,394.07 L132.80,394.10 L132.85,394.07 L132.95,394.49 L133.00,394.12 L133.10,393.83 L133.15,394.67 L133.25,394.60 L133.30,394.50 L133.45,394.59 L133.80,394.11 L134.50,394.36 L135.20,394.72 L135.90,394.86 L136.60,394.82 L137.30,394.01 L137.40,394.51 L137.55,394.34 L137.70,394.11 L137.85,393.75 L138.00,393.51 L138.15,393.49 L138.30,392.95 L138.45,391.79 L138.60,390.34 L138.70,388.98 L138.75,388.19 L138.90,383.82 L139.05,376.47 L139.20,365.79 L139.35,376.68 L139.40,379.97 L139.50,384.21 L139.65,387.57 L139.80,390.56 L139.95,392.49 L140.10,392.84 L140.25,393.57 L140.40,393.68 L140.55,393.61 L140.70,393.91 L140.80,393.88 L140.85,394.07 L141.50,394.52 L142.20,394.46 L142.90,394.85 L143.60,394.59 L144.30,394.26 L145.00,394.85 L145.70,394.53 L146.40,394.44 L147.10,394.76 L147.80,394.57 L148.50,394.26 L149.20,394.50 L149.90,394.20 L150.60,394.87 L151.30,394.14 L152.00,394.87 L152.70,393.96 L153.40,393.91 L154.10,394.45 L154.80,394.11 L155.50,394.41 L156.20,394.02 L156.90,394.74 L157.60,394.57 L158.30,394.58 L159.00,394.83 L159.70,394.89 L160.40,394.58 L161.10,394.61 L161.80,393.90 L162.50,393.95 L163.20,394.33 L163.90,394.87 L164.60,394.21 L165.30,394.47 L166.00,393.91 L166.70,394.31 L167.40,394.80 L167.70,394.48 L167.85,394.72 L168.00,393.90 L168.10,394.09 L168.15,394.07 L168.30,394.72 L168.45,393.98 L168.60,394.81 L168.75,394.14 L168.80,394.75 L168.90,394.38 L169.05,394.18 L169.20,394.81 L169.35,394.24 L169.50,394.52 L169.65,393.87 L169.80,394.61 L169.95,394.73 L170.10,393.83 L170.20,394.44 L170.25,393.95 L170.40,393.78 L170.55,393.93 L170.70,394.16 L170.85,394.36 L170.90,394.36 L171.00,394.29 L171.15,393.78 L171.30,393.65 L171.45,392.96 L171.60,393.28 L171.75,392.80 L171.90,392.25 L172.05,392.34 L172.20,391.16 L172.30,391.42 L172.35,391.60 L172.50,392.04 L172.65,392.84 L172.80,393.35 L172.95,392.96 L173.00,393.37 L173.10,393.57 L173.25,393.72 L173.40,393.71 L173.55,393.95 L173.70,393.51 L173.85,393.63 L174.00,394.05 L174.15,393.91 L174.30,394.47 L174.40,393.98 L174.45,394.57 L174.60,394.02 L174.75,393.89 L174.90,394.30 L175.05,394.22 L175.10,394.17 L175.20,394.61 L175.35,394.08 L175.50,394.53 L175.65,394.70 L175.80,394.33 L175.95,394.38 L176.10,394.81 L176.25,394.49 L176.40,394.07 L176.50,393.96 L176.55,393.97 L177.20,394.23 L177.90,393.99 L178.60,394.55 L179.30,394.32 L180.00,394.21 L180.70,394.41 L181.40,394.84 L182.10,394.14 L182.80,394.05 L183.50,394.21 L184.20,394.22 L184.90,394.81 L185.60,394.61 L186.30,394.33 L187.00,394.07 L187.70,393.95 L188.40,394.02 L189.10,394.75 L189.80,394.55 L190.50,394.05 L190.90,394.50 L191.05,393.93 L191.20,394.36 L191.35,394.17 L191.50,393.92 L191.65,394.52 L191.80,394.45 L191.90,394.20 L191.95,393.84 L192.10,394.25 L192.25,393.89 L192.40,393.94 L192.55,393.12 L192.60,393.83 L192.70,392.69 L192.85,392.42 L193.00,391.93 L193.15,390.79 L193.30,389.37 L193.45,388.14 L193.60,385.89 L193.75,387.78 L193.90,389.54 L194.00,390.87 L194.05,390.81 L194.20,391.93 L194.35,392.89 L194.40,392.81 L194.50,392.83 L194.55,392.88 L194.65,393.56 L194.70,394.10 L194.80,394.19 L194.85,393.43 L194.95,393.94 L195.00,393.98 L195.10,393.76 L195.15,394.27 L195.25,394.15 L195.30,394.49 L195.40,394.01 L195.45,394.66 L195.55,394.57 L195.60,394.24 L195.70,393.92 L195.75,394.27 L195.85,393.92 L195.90,394.49 L196.00,394.50 L196.05,394.38 L196.10,394.78 L196.15,393.85 L196.20,394.51 L196.35,394.59 L196.50,393.88 L196.65,394.05 L196.80,393.74 L196.95,394.22 L197.10,394.28 L197.25,393.82 L197.40,394.04 L197.50,393.61 L197.55,393.90 L197.70,393.27 L197.85,393.71 L198.00,392.84 L198.15,392.74 L198.20,392.92 L198.30,393.72 L198.45,394.06 L198.60,393.98 L198.75,393.63 L198.90,394.44 L199.05,394.36 L199.20,393.81 L199.35,394.12 L199.50,394.45 L199.60,393.80 L199.65,393.85 L199.80,394.18 L199.95,394.72 L200.10,394.85 L200.25,394.18 L200.30,394.78 L200.40,394.66 L200.55,394.74 L200.70,394.47 L200.85,394.86 L201.00,394.53 L201.15,394.84 L201.30,394.46 L201.45,394.09 L201.70,394.42 L202.40,394.38 L203.10,394.24 L203.80,394.27 L204.50,394.41 L205.20,394.49 L205.90,394.12 L206.60,394.18 L207.30,394.40 L208.00,394.40 L208.70,394.32 L209.40,394.56 L210.10,394.09 L210.80,394.43 L211.50,394.18 L212.20,394.67 L212.90,394.60 L213.60,394.68 L214.30,394.42 L215.00,394.15 L215.70,394.83 L216.40,394.41 L217.10,394.28 L217.80,394.19 L218.50,394.30 L219.20,394.61 L219.90,394.72 L220.60,394.38 L221.30,394.63 L222.00,394.11 L222.70,394.35 L223.40,394.26 L224.10,394.21 L224.80,394.26 L225.50,394.65 L226.20,394.63 L226.90,394.11 L227.60,394.13 L228.30,394.68 L229.00,394.55 L229.70,394.58 L230.40,394.53 L231.10,394.59 L231.40,394.17 L231.55,393.95 L231.70,394.25 L231.80,393.92 L231.85,394.85 L232.00,394.41 L232.15,394.55 L232.30,394.84 L232.45,394.67 L232.50,394.10 L232.60,394.20 L232.75,393.96 L232.90,394.64 L233.05,394.57 L233.20,394.31 L233.35,394.17 L233.50,394.05 L233.65,394.24 L233.80,394.43 L233.90,394.59 L233.95,394.53 L234.10,394.50 L234.25,394.01 L234.40,393.92 L234.55,393.72 L234.60,394.34 L234.70,393.48 L234.85,393.32 L235.00,393.28 L235.15,393.72 L235.30,393.40 L235.45,392.59 L235.60,392.74 L235.75,392.33 L235.90,391.33 L236.00,391.47 L236.05,392.22 L236.20,392.26 L236.35,392.37 L236.50,393.45 L236.65,393.24 L236.70,393.27 L236.80,393.59 L236.95,393.42 L237.10,393.31 L237.25,393.79 L237.40,393.87 L237.55,393.58 L237.70,394.00 L237.85,394.44 L238.00,394.05 L238.10,394.42 L238.15,394.38 L238.30,393.97 L238.45,393.82 L238.60,394.49 L238.75,394.44 L238.80,394.13 L238.90,394.05 L239.05,394.71 L239.20,394.77 L239.35,394.10 L239.50,394.46 L239.65,394.45 L239.80,394.21 L239.95,393.92 L240.10,394.21 L240.20,394.53 L240.25,394.49 L240.90,394.41 L241.60,394.02 L242.30,394.11 L243.00,394.21 L243.70,394.32 L244.40,394.26 L245.10,394.80 L245.80,394.02 L246.50,394.89 L247.20,394.14 L247.90,394.76 L248.60,394.14 L249.30,394.49 L250.00,394.28 L250.70,393.94 L251.40,394.70 L252.10,394.71 L252.80,394.17 L253.50,394.68 L254.20,394.38 L254.90,394.89 L255.60,393.95 L256.30,394.28 L257.00,394.13 L257.70,394.52 L258.40,394.68 L259.10,394.74 L259.80,394.45 L260.50,394.29 L261.20,394.70 L261.90,394.00 L262.60,394.16 L263.30,394.65 L264.00,394.34 L264.70,394.89 L265.40,393.96 L265.50,394.32 L265.65,394.06 L265.80,393.82 L265.95,393.89 L266.10,393.84 L266.25,394.06 L266.40,394.04 L266.55,394.00 L266.70,393.62 L266.80,393.89 L266.85,393.62 L267.00,393.77 L267.15,392.52 L267.30,392.25 L267.45,391.37 L267.50,390.89 L267.60,390.54 L267.75,388.22 L267.90,386.56 L268.05,382.79 L268.20,378.24 L268.35,383.05 L268.50,386.25 L268.65,388.30 L268.80,389.77 L268.90,391.48 L268.95,391.25 L269.10,391.85 L269.25,393.00 L269.40,393.32 L269.55,393.43 L269.60,393.52 L269.70,394.17 L269.85,393.83 L270.00,394.02 L270.15,394.65 L270.30,394.11 L270.45,394.19 L270.60,393.98 L270.75,394.51 L270.90,394.53 L271.00,394.31 L271.70,394.30 L272.40,394.13 L273.10,394.69 L273.80,394.36 L274.50,394.73 L275.20,394.27 L275.90,394.63 L276.60,393.93 L277.30,394.12 L278.00,394.86 L278.70,394.58 L279.40,394.58 L280.10,394.40 L280.80,394.37 L281.50,394.10 L282.20,394.07 L282.90,394.55 L283.60,394.59 L284.30,394.16 L285.00,394.54 L285.70,394.04 L286.40,394.51 L287.10,394.07 L287.80,394.41 L288.50,394.21 L289.20,394.44 L289.60,394.02 L289.75,394.36 L289.90,394.49 L290.05,394.00 L290.20,394.16 L290.35,394.51 L290.50,394.34 L290.60,394.39 L290.65,394.54 L290.80,394.27 L290.95,393.84 L291.10,393.95 L291.25,394.19 L291.30,393.86 L291.40,393.90 L291.55,393.21 L291.70,392.87 L291.85,392.81 L292.00,391.85 L292.15,390.54 L292.30,388.41 L292.45,390.50 L292.60,391.06 L292.70,392.53 L292.75,392.81 L292.90,393.15 L293.05,393.11 L293.20,393.99 L293.35,393.53 L293.40,394.24 L293.50,394.03 L293.65,393.63 L293.80,394.59 L293.85,394.16 L293.95,394.58 L294.00,394.45 L294.10,394.32 L294.15,394.66 L294.25,394.02 L294.30,394.72 L294.40,394.17 L294.45,393.86 L294.55,394.18 L294.60,393.91 L294.70,393.92 L294.75,394.47 L294.80,393.97 L294.85,394.01 L294.90,394.14 L295.00,394.12 L295.05,394.76 L295.20,394.73 L295.35,394.68 L295.50,394.77 L295.65,394.18 L295.80,394.49 L295.95,393.91 L296.10,394.47 L296.20,394.27 L296.25,394.15 L296.40,393.49 L296.55,393.14 L296.70,393.70 L296.85,392.95 L296.90,392.86 L297.00,392.76 L297.15,392.54 L297.30,393.47 L297.45,393.52 L297.60,394.05 L297.75,393.88 L297.90,393.74 L298.05,394.59 L298.20,393.98 L298.30,394.48 L298.35,394.58 L298.50,394.03 L298.65,394.51 L298.80,394.23 L298.95,394.08 L299.00,394.07 L299.10,394.82 L299.25,394.24 L299.40,394.39 L299.55,394.39 L299.70,393.91 L299.85,394.64 L300.00,394.64 L300.15,394.77 L300.40,394.25 L301.10,394.11 L301.80,394.25 L302.50,394.63 L303.20,394.56 L303.90,394.31 L304.60,394.42 L305.30,394.05" fill="none" stroke="#ff1010" stroke-width="1.4" stroke-linejoin="round"/>
<path d="M54.00,418.39 L54.70,417.23 L55.40,417.32 L56.10,418.05 L56.80,416.51 L57.50,417.88 L58.20,416.92 L58.90,418.11 L59.60,416.25 L60.30,416.72 L61.00,417.65 L61.70,417.25 L62.40,416.98 L63.10,417.50 L63.80,416.57 L64.50,417.14 L65.20,416.00 L65.90,418.08 L66.60,416.66 L67.30,418.16 L68.00,417.44 L68.70,417.56 L69.40,417.63 L70.10,416.32 L70.80,418.01 L71.10,416.74 L71.25,418.23 L71.40,418.02 L71.50,417.74 L71.55,418.09 L71.70,417.10 L71.85,417.71 L72.00,418.43 L72.15,416.43 L72.20,416.20 L72.30,417.00 L72.45,417.23 L72.60,416.28 L72.75,416.44 L72.90,418.09 L73.05,416.81 L73.20,416.14 L73.35,416.18 L73.50,417.14 L73.60,416.08 L73.65,416.79 L73.80,416.85 L73.95,416.48 L74.10,416.50 L74.25,417.18 L74.30,414.98 L74.40,417.21 L74.55,415.04 L74.70,414.29 L74.85,415.79 L75.00,414.79 L75.15,414.11 L75.30,412.54 L75.45,413.12 L75.60,410.80 L75.70,412.64 L75.75,411.68 L75.90,413.47 L76.05,414.39 L76.20,414.27 L76.35,415.04 L76.40,414.10 L76.50,415.87 L76.65,416.32 L76.80,415.19 L76.95,416.44 L77.10,417.09 L77.25,415.60 L77.40,417.64 L77.55,417.82 L77.70,415.77 L77.80,416.33 L77.85,415.92 L78.00,416.41 L78.15,416.02 L78.30,417.11 L78.45,416.52 L78.50,416.65 L78.60,417.09 L78.75,416.88 L78.90,417.98 L79.05,417.82 L79.20,416.25 L79.35,416.54 L79.50,415.99 L79.65,416.83 L79.80,416.26 L79.90,417.79 L79.95,418.01 L80.60,418.58 L81.30,416.54 L82.00,416.09 L82.70,417.97 L83.40,417.07 L84.10,418.42 L84.80,417.02 L85.50,416.81 L86.20,416.19 L86.90,418.46 L87.60,417.33 L88.30,417.15 L89.00,417.14 L89.70,418.00 L90.40,418.16 L91.10,417.24 L91.80,416.46 L92.50,417.06 L93.20,418.32 L93.90,417.06 L94.60,417.72 L95.30,417.46 L96.00,417.20 L96.70,417.49 L97.40,416.64 L98.10,417.45 L98.80,418.25 L99.50,416.21 L100.20,416.96 L100.90,418.29 L101.60,418.54 L102.30,416.03 L103.00,417.63 L103.70,417.64 L104.40,418.19 L105.10,417.22 L105.80,416.34 L106.50,416.78 L107.20,417.85 L107.90,417.89 L108.60,416.53 L109.30,417.67 L110.00,417.71 L110.70,417.71 L111.40,416.06 L112.10,417.15 L112.80,416.84 L113.20,417.55 L113.35,416.87 L113.50,416.33 L113.65,417.73 L113.80,416.73 L113.95,418.04 L114.10,416.78 L114.20,417.40 L114.25,418.08 L114.40,416.28 L114.55,417.87 L114.70,416.14 L114.85,418.39 L114.90,416.02 L115.00,417.83 L115.15,416.89 L115.30,416.39 L115.45,416.93 L115.60,417.18 L115.75,416.93 L115.90,416.14 L116.05,417.14 L116.20,416.51 L116.30,418.21 L116.35,416.67 L116.50,416.73 L116.65,416.10 L116.80,417.92 L116.95,416.10 L117.00,416.89 L117.10,417.27 L117.25,415.92 L117.40,416.62 L117.55,415.09 L117.70,414.28 L117.85,414.47 L118.00,415.83 L118.15,417.17 L118.30,415.63 L118.40,416.36 L118.45,417.25 L118.60,416.12 L118.75,415.90 L118.90,416.95 L119.05,416.78 L119.10,418.13 L119.20,418.06 L119.35,416.40 L119.50,417.28 L119.65,416.93 L119.80,415.97 L119.95,417.06 L120.10,418.30 L120.25,416.72 L120.40,417.47 L120.50,417.80 L120.55,416.12 L120.70,418.37 L120.85,416.25 L121.00,416.76 L121.15,417.84 L121.20,416.03 L121.30,416.96 L121.45,416.32 L121.60,417.22 L121.75,416.03 L121.90,416.39 L122.05,416.57 L122.60,416.21 L123.30,416.23 L124.00,416.50 L124.70,417.34 L125.40,416.34 L126.10,418.10 L126.40,417.04 L126.55,416.60 L126.70,416.56 L126.80,418.11 L126.85,416.05 L127.00,417.84 L127.15,416.15 L127.30,418.33 L127.45,416.92 L127.50,417.40 L127.60,418.08 L127.75,416.06 L127.90,415.93 L128.05,417.52 L128.20,417.20 L128.35,417.49 L128.50,416.26 L128.65,416.75 L128.80,415.84 L128.90,416.42 L128.95,415.97 L129.10,416.63 L129.25,415.72 L129.40,415.46 L129.55,416.19 L129.60,414.66 L129.70,416.34 L129.85,415.23 L130.00,414.16 L130.15,413.42 L130.30,413.92 L130.45,413.29 L130.60,413.12 L130.75,411.37 L130.90,410.45 L131.00,410.92 L131.05,408.89 L131.20,409.31 L131.35,407.40 L131.50,405.67 L131.65,403.21 L131.70,400.56 L131.80,400.11 L131.95,402.35 L132.10,403.63 L132.25,407.67 L132.40,408.43 L132.55,410.27 L132.70,410.82 L132.85,410.59 L133.00,413.48 L133.10,412.19 L133.15,412.64 L133.30,414.18 L133.45,413.59 L133.60,414.73 L133.75,415.75 L133.80,414.25 L133.85,415.82 L133.90,414.47 L134.00,415.61 L134.05,416.14 L134.15,416.39 L134.20,414.78 L134.30,415.29 L134.35,417.34 L134.45,415.96 L134.50,416.09 L134.60,416.04 L134.65,416.91 L134.75,417.09 L134.80,416.88 L134.90,416.29 L134.95,416.74 L135.05,416.63 L135.10,415.79 L135.20,417.79 L135.25,417.84 L135.35,417.35 L135.40,417.91 L135.50,416.53 L135.55,417.49 L135.65,415.91 L135.70,417.20 L135.80,417.09 L135.85,417.65 L135.90,417.35 L135.95,417.44 L136.00,415.82 L136.10,417.10 L136.15,416.25 L136.25,415.73 L136.30,415.82 L136.40,416.82 L136.45,416.87 L136.55,416.73 L136.60,416.19 L136.70,414.72 L136.75,414.58 L136.85,415.44 L136.90,414.39 L137.00,414.45 L137.05,413.70 L137.15,413.51 L137.30,414.42 L137.45,412.46 L137.60,413.27 L137.75,410.95 L137.90,411.13 L138.00,408.81 L138.05,408.22 L138.20,406.86 L138.35,403.85 L138.50,402.52 L138.65,399.47 L138.70,397.42 L138.80,397.23 L138.95,399.46 L139.10,401.40 L139.25,406.32 L139.40,406.44 L139.55,408.19 L139.70,409.01 L139.85,410.38 L140.00,412.94 L140.10,413.17 L140.15,413.22 L140.30,413.23 L140.45,413.90 L140.60,416.15 L140.75,414.99 L140.80,416.71 L140.90,416.66 L141.05,414.95 L141.20,417.06 L141.35,415.10 L141.50,417.05 L141.65,417.44 L141.80,417.25 L141.95,416.97 L142.10,417.73 L142.20,416.06 L142.25,417.08 L142.40,416.42 L142.55,416.81 L142.70,416.31 L142.85,417.69 L142.90,417.34 L143.00,417.90 L143.15,417.53 L143.30,417.47 L143.45,418.32 L143.60,418.05 L144.30,417.45 L145.00,416.84 L145.70,418.41 L146.40,416.96 L147.10,416.26 L147.80,416.87 L148.50,417.84 L149.20,418.42 L149.90,417.68 L150.60,417.72 L151.30,418.44 L152.00,418.02 L152.70,417.16 L153.40,417.20 L154.10,417.98 L154.80,416.83 L155.50,416.29 L156.20,417.61 L156.90,418.10 L157.60,416.65 L158.30,417.78 L159.00,418.32 L159.70,416.33 L160.40,416.35 L161.10,417.28 L161.80,416.87 L162.50,418.47 L163.20,418.59 L163.90,417.16 L164.60,418.06 L165.30,417.64 L166.00,416.45 L166.70,418.52 L166.80,416.44 L166.95,416.18 L167.10,417.16 L167.25,416.03 L167.40,417.23 L167.55,417.04 L167.70,418.45 L167.85,417.04 L168.00,418.16 L168.10,417.97 L168.15,417.47 L168.30,416.55 L168.45,416.72 L168.60,417.19 L168.75,416.92 L168.80,417.56 L168.90,417.19 L169.05,416.69 L169.20,417.40 L169.35,418.38 L169.50,416.28 L169.65,416.58 L169.80,415.68 L169.95,415.83 L170.10,415.66 L170.20,416.56 L170.25,417.60 L170.40,417.14 L170.55,417.71 L170.70,417.23 L170.85,416.41 L170.90,416.33 L171.00,414.71 L171.15,415.44 L171.30,414.84 L171.45,415.44 L171.60,413.60 L171.75,414.38 L171.90,413.39 L172.05,413.05 L172.20,412.05 L172.30,411.79 L172.35,413.67 L172.50,414.50 L172.65,414.52 L172.80,413.73 L172.95,415.38 L173.00,416.21 L173.10,416.73 L173.25,416.42 L173.40,414.80 L173.55,417.17 L173.70,416.78 L173.85,415.92 L174.00,417.72 L174.15,417.58 L174.30,417.84 L174.40,416.21 L174.45,417.09 L174.60,416.64 L174.75,416.48 L174.90,417.73 L175.05,417.39 L175.10,416.66 L175.20,417.23 L175.35,418.26 L175.50,417.35 L175.65,418.27 L175.80,417.38 L175.95,418.50 L176.10,416.01 L176.25,417.14 L176.40,417.39 L176.50,417.85 L176.55,418.48 L176.70,417.59 L176.85,417.21 L177.00,417.62 L177.15,417.37 L177.20,417.81 L177.30,418.44 L177.45,416.02 L177.90,416.82 L178.60,418.27 L179.30,416.15 L180.00,418.05 L180.70,416.08 L181.40,417.69 L182.10,418.08 L182.80,416.62 L183.50,416.99 L184.20,416.59 L184.90,417.83 L185.60,417.37 L186.30,417.57 L187.00,416.84 L187.70,417.52 L188.40,418.47 L189.10,417.99 L189.25,418.42 L189.40,416.58 L189.55,417.27 L189.70,416.91 L189.80,416.80 L189.85,417.98 L190.00,416.32 L190.15,417.29 L190.30,417.81 L190.45,418.18 L190.50,415.78 L190.60,416.40 L190.75,416.91 L190.90,417.98 L191.05,415.87 L191.20,417.51 L191.35,416.21 L191.50,416.42 L191.65,417.19 L191.80,414.67 L191.90,415.15 L191.95,414.58 L192.10,414.11 L192.25,414.06 L192.40,414.49 L192.55,413.44 L192.60,411.97 L192.70,413.11 L192.85,411.25 L193.00,408.96 L193.15,409.08 L193.30,407.07 L193.45,403.05 L193.60,401.94 L193.75,404.59 L193.90,405.53 L194.00,406.32 L194.05,409.19 L194.15,410.22 L194.20,408.83 L194.30,411.50 L194.35,411.93 L194.45,412.33 L194.50,413.19 L194.60,414.20 L194.65,412.77 L194.70,414.35 L194.75,414.82 L194.80,413.47 L194.90,414.85 L194.95,415.03 L195.05,415.80 L195.10,415.22 L195.20,414.74 L195.25,414.80 L195.35,415.78 L195.40,414.82 L195.50,416.89 L195.55,417.05 L195.65,415.51 L195.70,416.76 L195.80,416.82 L195.85,415.44 L195.95,417.24 L196.00,417.25 L196.10,416.13 L196.15,415.62 L196.25,416.15 L196.30,417.45 L196.40,416.70 L196.45,417.62 L196.55,415.94 L196.60,415.81 L196.70,416.46 L196.75,417.84 L196.80,415.98 L196.85,415.75 L196.90,417.52 L197.00,415.79 L197.05,417.28 L197.15,415.74 L197.20,416.15 L197.30,417.20 L197.35,417.72 L197.45,416.47 L197.50,416.55 L197.60,415.39 L197.65,416.16 L197.75,415.82 L197.80,417.20 L197.90,416.90 L197.95,417.02 L198.05,416.23 L198.10,416.59 L198.20,414.94 L198.25,415.52 L198.35,415.08 L198.40,414.94 L198.50,415.88 L198.55,414.64 L198.65,415.17 L198.70,415.16 L198.80,416.86 L198.85,416.36 L198.90,416.03 L198.95,415.84 L199.00,417.32 L199.10,417.49 L199.15,416.27 L199.25,416.68 L199.30,417.49 L199.40,415.99 L199.45,416.04 L199.55,415.69 L199.60,416.76 L199.70,417.50 L199.75,415.93 L199.85,416.68 L199.90,418.14 L200.00,416.84 L200.05,416.59 L200.15,417.79 L200.20,417.93 L200.30,416.59 L200.35,415.93 L200.45,417.25 L200.50,417.51 L200.60,417.97 L200.65,417.27 L200.75,416.32 L200.80,416.84 L200.90,416.20 L200.95,416.59 L201.00,416.62 L201.05,417.74 L201.10,417.69 L201.20,417.66 L201.25,416.46 L201.35,417.62 L201.40,415.42 L201.50,417.33 L201.55,416.53 L201.65,416.98 L201.70,415.71 L201.80,417.02 L201.85,414.40 L201.95,416.31 L202.00,416.11 L202.10,415.21 L202.15,416.50 L202.25,415.11 L202.30,416.60 L202.40,416.03 L202.45,415.96 L202.55,415.54 L202.60,417.17 L202.70,417.11 L202.75,415.49 L202.85,417.89 L202.90,415.97 L203.05,416.48 L203.10,416.61 L203.20,417.09 L203.35,417.98 L203.50,418.18 L203.65,417.42 L203.80,416.77 L203.95,416.13 L204.10,416.06 L204.25,417.25 L204.40,417.43 L204.50,417.09 L204.55,418.49 L204.70,417.02 L204.85,416.87 L205.00,417.05 L205.15,416.42 L205.20,418.41 L205.30,417.51 L205.45,417.39 L205.60,417.09 L205.75,416.64 L205.90,416.81 L206.05,417.27 L206.20,417.15 L206.35,418.54 L206.60,417.46 L207.30,416.54 L208.00,416.14 L208.70,416.41 L209.40,416.90 L210.10,418.03 L210.80,418.31 L211.50,416.61 L212.20,418.03 L212.90,417.15 L213.60,417.40 L214.30,417.39 L215.00,416.11 L215.70,416.17 L216.40,417.74 L217.10,417.79 L217.80,416.99 L218.50,418.39 L219.20,418.13 L219.90,416.79 L220.60,416.17 L221.30,417.44 L222.00,417.70 L222.70,416.58 L223.40,416.11 L224.10,417.27 L224.80,416.09 L225.50,417.92 L226.20,417.63 L226.90,416.72 L227.60,417.16 L228.30,416.60 L229.00,416.47 L229.70,416.45 L229.85,418.09 L230.00,417.14 L230.15,417.82 L230.30,416.86 L230.40,418.04 L230.45,417.49 L230.60,417.63 L230.75,416.94 L230.90,417.37 L231.05,416.38 L231.10,418.41 L231.20,417.62 L231.35,417.23 L231.50,417.48 L231.65,416.04 L231.80,416.61 L231.95,416.30 L232.10,417.84 L232.25,415.61 L232.40,416.66 L232.50,417.70 L232.55,417.45 L232.70,417.17 L232.85,415.96 L233.00,415.63 L233.15,416.69 L233.20,415.57 L233.30,416.53 L233.45,415.31 L233.60,416.09 L233.75,415.26 L233.90,415.48 L234.05,415.45 L234.20,413.31 L234.35,414.22 L234.50,410.89 L234.60,412.54 L234.65,410.01 L234.80,410.25 L234.95,408.54 L235.10,408.00 L235.25,408.35 L235.30,408.53 L235.40,410.87 L235.55,411.37 L235.70,412.83 L235.85,412.93 L236.00,412.42 L236.15,414.89 L236.30,413.93 L236.45,415.00 L236.60,414.11 L236.70,414.98 L236.75,416.13 L236.90,416.63 L237.05,416.51 L237.20,416.18 L237.35,417.08 L237.40,416.96 L237.50,415.84 L237.65,416.80 L237.80,417.06 L237.95,417.47 L238.10,416.16 L238.25,416.51 L238.40,416.64 L238.55,416.03 L238.70,416.72 L238.80,417.73 L238.85,417.35 L239.00,416.32 L239.15,417.79 L239.30,416.21 L239.45,417.87 L239.50,416.31 L239.60,416.18 L239.75,416.60 L239.90,417.29 L240.05,416.66 L240.20,418.26 L240.35,418.41 L240.90,416.72 L241.60,417.94 L242.30,417.81 L243.00,417.46 L243.70,416.66 L244.40,418.47 L245.10,418.49 L245.80,416.03 L246.50,416.86 L247.20,416.83 L247.90,416.52 L248.60,417.12 L249.30,418.34 L250.00,416.06 L250.70,418.17 L251.40,416.80 L252.10,416.04 L252.80,418.34 L253.50,416.71 L254.20,416.55 L254.90,416.30 L255.60,416.95 L256.30,416.31 L257.00,416.47 L257.70,416.65 L258.40,417.50 L259.10,417.16 L259.80,416.79 L260.50,417.36 L261.20,418.00 L261.90,417.86 L262.60,416.85 L262.80,418.33 L262.95,417.99 L263.10,417.38 L263.25,417.14 L263.30,416.76 L263.40,416.24 L263.55,418.17 L263.70,417.42 L263.85,416.07 L264.00,418.19 L264.15,418.05 L264.30,415.78 L264.45,417.46 L264.60,416.19 L264.70,416.91 L264.75,417.66 L264.90,416.31 L265.05,416.59 L265.20,416.89 L265.35,415.51 L265.40,416.58 L265.50,415.94 L265.65,417.17 L265.80,414.86 L265.95,415.92 L266.10,413.83 L266.25,414.02 L266.40,413.13 L266.55,412.63 L266.70,412.93 L266.80,411.49 L266.85,412.82 L267.00,410.06 L267.15,410.30 L267.30,409.59 L267.45,406.12 L267.50,405.77 L267.60,405.92 L267.75,402.97 L267.90,401.59 L268.05,396.99 L268.20,393.53 L268.35,398.60 L268.50,400.06 L268.65,404.26 L268.80,406.25 L268.90,405.72 L268.95,407.21 L269.10,409.80 L269.25,408.99 L269.40,412.01 L269.55,412.77 L269.60,412.99 L269.70,413.12 L269.85,412.50 L270.00,415.31 L270.15,413.57 L270.30,415.76 L270.45,415.95 L270.60,415.19 L270.75,416.40 L270.90,415.90 L271.00,416.90 L271.05,415.12 L271.20,417.59 L271.35,416.29 L271.50,417.49 L271.65,416.72 L271.70,417.63 L271.80,416.35 L271.95,417.05 L272.10,415.76 L272.25,417.01 L272.40,415.98 L272.55,418.05 L272.70,417.60 L272.85,416.97 L273.00,418.42 L273.10,418.36 L273.15,418.39 L273.30,416.13 L273.45,417.76 L273.60,417.83 L273.80,417.53 L274.50,416.02 L275.20,418.39 L275.90,417.14 L276.60,417.54 L277.30,418.12 L278.00,416.72 L278.70,416.08 L279.40,418.40 L280.10,416.70 L280.80,416.11 L281.50,416.36 L282.20,418.59 L282.90,417.92 L283.60,416.54 L284.30,416.38 L285.00,418.33 L285.70,417.71 L286.40,417.48 L286.55,416.29 L286.70,417.02 L286.85,418.40 L287.00,415.93 L287.10,417.00 L287.15,416.06 L287.30,418.49 L287.45,416.14 L287.60,418.33 L287.75,418.01 L287.80,417.71 L287.90,415.90 L288.05,417.56 L288.20,416.99 L288.35,416.93 L288.50,415.97 L288.65,416.85 L288.80,417.51 L288.95,415.67 L289.10,417.48 L289.20,416.20 L289.25,415.75 L289.40,415.51 L289.55,415.88 L289.70,416.13 L289.85,415.65 L289.90,416.38 L290.00,415.16 L290.15,414.77 L290.30,415.55 L290.45,412.99 L290.60,411.82 L290.75,411.87 L290.90,410.92 L291.05,409.36 L291.20,408.87 L291.30,406.90 L291.35,408.68 L291.50,405.79 L291.65,404.73 L291.80,401.80 L291.95,404.34 L292.00,405.14 L292.10,405.30 L292.25,408.17 L292.40,408.29 L292.55,410.46 L292.70,411.62 L292.85,412.98 L293.00,412.16 L293.15,413.25 L293.30,415.03 L293.40,415.28 L293.45,415.87 L293.60,414.00 L293.75,414.55 L293.90,414.52 L294.05,416.32 L294.10,416.43 L294.20,416.27 L294.35,416.71 L294.50,416.09 L294.65,416.23 L294.80,417.14 L294.95,416.37 L295.10,416.28 L295.25,415.94 L295.40,415.48 L295.50,415.98 L295.55,415.39 L295.70,413.87 L295.85,414.17 L296.00,413.58 L296.15,412.88 L296.20,412.94 L296.30,411.81 L296.45,410.79 L296.60,409.53 L296.75,410.76 L296.90,413.44 L297.05,412.07 L297.20,412.63 L297.35,415.08 L297.50,414.74 L297.60,415.16 L297.65,415.67 L297.80,415.42 L297.95,415.36 L298.10,415.01 L298.25,417.43 L298.30,417.65 L298.40,416.05 L298.55,416.64 L298.70,416.38 L298.85,415.77 L299.00,418.01 L299.15,417.92 L299.30,416.42 L299.45,416.49 L299.60,417.68 L299.70,417.95 L299.75,417.11 L299.90,416.91 L300.05,416.53 L300.20,418.01 L300.35,418.19 L300.40,418.18 L300.50,416.25 L300.65,417.51 L300.80,418.53 L300.95,417.84 L301.10,417.17 L301.80,416.37 L302.50,416.15 L303.20,417.90 L303.90,416.18 L304.60,418.10 L305.30,417.73" fill="none" stroke="#000000" stroke-width="1.4" stroke-linejoin="round"/>
<text transform="translate(201.6,268.7) scale(0.84,1)" font-family="Liberation Serif" font-weight="bold" stroke="#000" stroke-width="0.15" font-size="11">S-100-80</text>
<text transform="translate(203.2,293.2) scale(0.84,1)" font-family="Liberation Serif" font-weight="bold" stroke="#000" stroke-width="0.15" font-size="11">S-80-80</text>
<text transform="translate(204.6,317.4) scale(0.84,1)" font-family="Liberation Serif" font-weight="bold" stroke="#000" stroke-width="0.15" font-size="11">S-60-100</text>
<text transform="translate(200.7,340.7) scale(0.84,1)" font-family="Liberation Serif" font-weight="bold" stroke="#000" stroke-width="0.15" font-size="11">S-60-80</text>
<text transform="translate(202,362.9) scale(0.84,1)" font-family="Liberation Serif" font-weight="bold" stroke="#000" stroke-width="0.15" font-size="11">S-60-60</text>
<text transform="translate(200.4,388.1) scale(0.84,1)" font-family="Liberation Serif" font-weight="bold" stroke="#000" stroke-width="0.15" font-size="11">S-60-40</text>
<text transform="translate(200.1,410.7) scale(0.84,1)" font-family="Liberation Serif" font-weight="bold" stroke="#000" stroke-width="0.15" font-size="11">S-60-20</text>
<text x="117.90" y="274.20" font-family="Liberation Serif" font-weight="bold" font-size="16.5" text-anchor="middle">*</text>
<text x="132.00" y="254.20" font-family="Liberation Serif" font-weight="bold" font-size="16.5" text-anchor="middle">*</text>
<text x="140.70" y="257.20" font-family="Liberation Serif" font-weight="bold" font-size="16.5" text-anchor="middle">*</text>
<text x="194.20" y="262.70" font-family="Liberation Serif" font-weight="bold" font-size="16.5" text-anchor="middle">*</text>
<text x="239.80" y="269.20" font-family="Liberation Serif" font-weight="bold" font-size="16.5" text-anchor="middle">*</text>
<text x="269.10" y="258.70" font-family="Liberation Serif" font-weight="bold" font-size="16.5" text-anchor="middle">*</text>
<text x="293.00" y="270.20" font-family="Liberation Serif" font-weight="bold" font-size="16.5" text-anchor="middle">*</text>
<text x="300.00" y="272.60" font-family="Liberation Serif" font-weight="bold" font-size="16.5" text-anchor="middle">*</text>
<text transform="translate(80.8,256) rotate(-90)" font-family="Liberation Serif" font-weight="bold" font-size="9.5" text-anchor="middle">(101)</text>
<text transform="translate(176.6,260.4) rotate(-90)" font-family="Liberation Serif" font-weight="bold" font-size="9.5" text-anchor="middle">(200)</text>
</svg></body></html>
